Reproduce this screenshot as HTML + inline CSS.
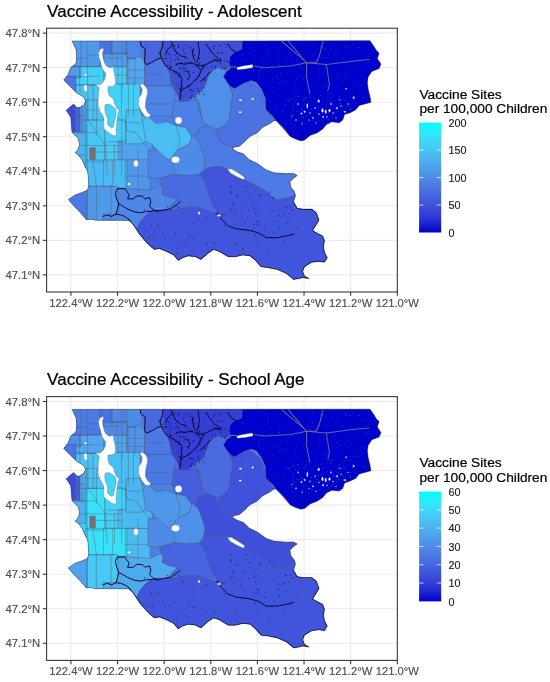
<!DOCTYPE html>
<html><head><meta charset="utf-8"><style>
html,body{margin:0;padding:0;background:#fff;}
body{width:550px;height:682px;overflow:hidden;}
svg{display:block;filter:blur(0.3px);}
text{font-family:"Liberation Sans",Arial,sans-serif;}
.title{font-size:16.3px;fill:#000;stroke:#000;stroke-width:0.25px;}
.ax{font-size:10.8px;fill:#4D4D4D;stroke:#4D4D4D;stroke-width:0.15px;}
.lt{font-size:13.3px;fill:#000;stroke:#000;stroke-width:0.2px;}
.ll{font-size:10.8px;fill:#1a1a1a;stroke:#1a1a1a;stroke-width:0.15px;}
</style></head><body>
<svg width="550" height="682" viewBox="0 0 550 682">
<defs><linearGradient id="g1" x1="0" y1="1" x2="0" y2="0"><stop offset="0.000" stop-color="#0000cd"/><stop offset="0.125" stop-color="#2d33d4"/><stop offset="0.250" stop-color="#3f52db"/><stop offset="0.375" stop-color="#496fe2"/><stop offset="0.500" stop-color="#4e8be8"/><stop offset="0.625" stop-color="#4ea8ee"/><stop offset="0.750" stop-color="#48c4f4"/><stop offset="0.875" stop-color="#39e2fa"/><stop offset="1.000" stop-color="#00ffff"/></linearGradient><linearGradient id="g2" x1="0" y1="1" x2="0" y2="0"><stop offset="0.000" stop-color="#0000cd"/><stop offset="0.125" stop-color="#2d33d4"/><stop offset="0.250" stop-color="#3f52db"/><stop offset="0.375" stop-color="#496fe2"/><stop offset="0.500" stop-color="#4e8be8"/><stop offset="0.625" stop-color="#4ea8ee"/><stop offset="0.750" stop-color="#48c4f4"/><stop offset="0.875" stop-color="#39e2fa"/><stop offset="1.000" stop-color="#00ffff"/></linearGradient></defs>
<rect width="550" height="682" fill="#fff"/>
<text transform="translate(47.10,16.90) scale(1.047,1)" class="title">Vaccine Accessibility - Adolescent</text>
<g stroke="#EBEBEB" stroke-width="1.07">
<line x1="70.90" y1="28.20" x2="70.90" y2="292.00"/>
<line x1="117.53" y1="28.20" x2="117.53" y2="292.00"/>
<line x1="164.16" y1="28.20" x2="164.16" y2="292.00"/>
<line x1="210.79" y1="28.20" x2="210.79" y2="292.00"/>
<line x1="257.42" y1="28.20" x2="257.42" y2="292.00"/>
<line x1="304.05" y1="28.20" x2="304.05" y2="292.00"/>
<line x1="350.68" y1="28.20" x2="350.68" y2="292.00"/>
<line x1="397.31" y1="28.20" x2="397.31" y2="292.00"/>
<line x1="46.60" y1="33.10" x2="397.30" y2="33.10"/>
<line x1="46.60" y1="67.64" x2="397.30" y2="67.64"/>
<line x1="46.60" y1="102.18" x2="397.30" y2="102.18"/>
<line x1="46.60" y1="136.72" x2="397.30" y2="136.72"/>
<line x1="46.60" y1="171.26" x2="397.30" y2="171.26"/>
<line x1="46.60" y1="205.80" x2="397.30" y2="205.80"/>
<line x1="46.60" y1="240.34" x2="397.30" y2="240.34"/>
<line x1="46.60" y1="274.88" x2="397.30" y2="274.88"/>
</g>
<g transform="translate(0,0)"><clipPath id="cty1"><polygon points="72.2,41.0 370.0,40.8 373.6,45.9 376.4,50.5 379.1,53.2 377.3,58.6 380.9,64.1 379.1,68.6 371.8,71.4 368.2,76.8 367.3,82.3 368.2,89.5 370.0,96.8 370.9,102.3 366.4,103.6 359.1,105.5 355.5,110.0 350.0,112.7 344.5,114.5 342.7,120.0 339.1,122.7 331.8,121.8 326.4,124.5 322.7,129.1 317.3,132.7 310.0,135.5 304.5,140.0 300.9,140.9 295.5,139.1 290.0,136.4 285.5,131.0 280.0,125.0 276.0,120.5 273.6,120.9 270.0,123.6 262.7,127.3 257.3,132.7 250.0,136.4 244.5,141.8 239.1,146.4 233.6,147.3 232.7,149.1 237.3,151.8 243.6,154.0 249.0,159.5 257.3,163.6 266.4,170.0 273.6,172.7 284.5,173.6 293.6,173.6 297.3,175.5 293.6,178.2 290.0,181.8 290.9,187.3 294.5,191.8 295.5,195.5 293.6,201.8 297.3,208.2 302.7,209.1 311.8,209.1 316.4,212.7 319.1,220.0 315.5,226.0 312.7,230.5 317.3,233.2 322.7,235.9 324.5,240.5 323.6,246.8 324.5,252.3 327.3,257.7 324.5,262.3 319.1,261.4 311.8,262.3 304.5,266.8 302.7,271.4 304.5,275.9 309.1,278.6 302.7,277.7 299.1,278.6 293.6,279.5 286.4,273.6 277.3,269.5 268.2,267.7 260.9,266.8 255.5,260.5 250.0,255.9 242.7,255.0 235.5,256.8 228.2,256.8 219.1,251.4 213.6,249.5 208.2,253.2 200.9,259.5 195.5,256.8 188.2,255.9 182.7,257.7 178.2,260.5 173.6,255.0 166.4,251.4 159.1,248.6 154.5,249.5 150.9,246.8 145.5,241.4 140.0,235.0 136.4,229.5 132.7,224.1 129.1,220.5 118.0,220.3 96.2,220.3 90.7,219.2 86.4,219.7 80.9,213.2 74.4,206.6 68.4,199.5 75.1,194.9 81.6,192.7 87.6,190.0 88.7,185.1 88.2,176.4 87.6,170.9 84.9,166.5 82.2,160.0 78.4,154.9 75.1,152.7 77.3,150.5 79.5,145.1 78.4,138.5 72.0,132.2 71.4,124.6 70.8,117.6 68.5,113.5 66.1,110.5 70.0,107.0 73.7,104.1 76.6,107.6 79.6,107.6 84.3,104.7 85.5,100.5 83.4,96.8 78.3,93.9 75.4,91.7 71.7,88.1 67.4,83.7 63.7,80.1 65.3,78.2 68.0,74.9 69.6,70.5 71.0,67.3 75.5,64.0 76.4,61.3 76.5,56.0 76.2,49.8 74.0,45.0 72.6,42.0"/></clipPath>
<polygon points="72.2,41.0 370.0,40.8 373.6,45.9 376.4,50.5 379.1,53.2 377.3,58.6 380.9,64.1 379.1,68.6 371.8,71.4 368.2,76.8 367.3,82.3 368.2,89.5 370.0,96.8 370.9,102.3 366.4,103.6 359.1,105.5 355.5,110.0 350.0,112.7 344.5,114.5 342.7,120.0 339.1,122.7 331.8,121.8 326.4,124.5 322.7,129.1 317.3,132.7 310.0,135.5 304.5,140.0 300.9,140.9 295.5,139.1 290.0,136.4 285.5,131.0 280.0,125.0 276.0,120.5 273.6,120.9 270.0,123.6 262.7,127.3 257.3,132.7 250.0,136.4 244.5,141.8 239.1,146.4 233.6,147.3 232.7,149.1 237.3,151.8 243.6,154.0 249.0,159.5 257.3,163.6 266.4,170.0 273.6,172.7 284.5,173.6 293.6,173.6 297.3,175.5 293.6,178.2 290.0,181.8 290.9,187.3 294.5,191.8 295.5,195.5 293.6,201.8 297.3,208.2 302.7,209.1 311.8,209.1 316.4,212.7 319.1,220.0 315.5,226.0 312.7,230.5 317.3,233.2 322.7,235.9 324.5,240.5 323.6,246.8 324.5,252.3 327.3,257.7 324.5,262.3 319.1,261.4 311.8,262.3 304.5,266.8 302.7,271.4 304.5,275.9 309.1,278.6 302.7,277.7 299.1,278.6 293.6,279.5 286.4,273.6 277.3,269.5 268.2,267.7 260.9,266.8 255.5,260.5 250.0,255.9 242.7,255.0 235.5,256.8 228.2,256.8 219.1,251.4 213.6,249.5 208.2,253.2 200.9,259.5 195.5,256.8 188.2,255.9 182.7,257.7 178.2,260.5 173.6,255.0 166.4,251.4 159.1,248.6 154.5,249.5 150.9,246.8 145.5,241.4 140.0,235.0 136.4,229.5 132.7,224.1 129.1,220.5 118.0,220.3 96.2,220.3 90.7,219.2 86.4,219.7 80.9,213.2 74.4,206.6 68.4,199.5 75.1,194.9 81.6,192.7 87.6,190.0 88.7,185.1 88.2,176.4 87.6,170.9 84.9,166.5 82.2,160.0 78.4,154.9 75.1,152.7 77.3,150.5 79.5,145.1 78.4,138.5 72.0,132.2 71.4,124.6 70.8,117.6 68.5,113.5 66.1,110.5 70.0,107.0 73.7,104.1 76.6,107.6 79.6,107.6 84.3,104.7 85.5,100.5 83.4,96.8 78.3,93.9 75.4,91.7 71.7,88.1 67.4,83.7 63.7,80.1 65.3,78.2 68.0,74.9 69.6,70.5 71.0,67.3 75.5,64.0 76.4,61.3 76.5,56.0 76.2,49.8 74.0,45.0 72.6,42.0" fill="#4d80e6"/>
<g clip-path="url(#cty1)" stroke="#585868" stroke-width="0.55" stroke-opacity="0.8" stroke-linejoin="round">
<polygon points="55.0,40.0 100.0,40.0 100.0,66.7 55.0,66.7" fill="#4f99eb"/>
<polygon points="100.0,40.0 112.0,40.0 112.0,58.0 100.0,58.0" fill="#4970e2"/>
<polygon points="112.0,40.0 127.0,40.0 127.0,54.0 112.0,54.0" fill="#4e90e9"/>
<polygon points="125.0,40.0 142.0,40.0 142.0,58.0 125.0,58.0" fill="#4d84e7"/>
<polygon points="104.0,54.0 127.0,54.0 127.0,67.0 104.0,67.0" fill="#4f9bec"/>
<polygon points="55.0,66.7 104.0,66.7 104.0,85.0 55.0,85.0" fill="#43d0f6"/>
<polygon points="55.0,66.7 81.0,66.7 81.0,78.0 55.0,78.0" fill="#4f9dec"/>
<polygon points="55.0,76.0 76.0,76.0 76.0,92.0 55.0,92.0" fill="#4a75e3"/>
<polygon points="104.0,67.0 127.0,67.0 127.0,84.0 104.0,84.0" fill="#46cbf6"/>
<polygon points="126.7,61.8 128.9,58.5 134.4,59.1 136.5,57.5 139.8,56.4 143.1,60.2 144.7,61.8 144.7,86.0 126.7,86.0" fill="#4ea7ee"/>
<polygon points="144.7,58.0 175.0,58.0 175.0,86.0 144.7,86.0" fill="#4b79e4"/>
<polygon points="76.0,85.0 104.0,85.0 104.0,121.0 76.0,121.0" fill="#48c4f4"/>
<polygon points="55.0,100.0 75.5,100.0 75.5,132.0 55.0,132.0" fill="#3b4bd9"/>
<polygon points="75.5,100.0 80.0,100.0 80.0,136.0 75.5,136.0" fill="#4769e0"/>
<polygon points="80.0,100.0 86.0,100.0 86.0,136.0 80.0,136.0" fill="#4f97eb"/>
<polygon points="104.0,84.0 140.0,84.0 140.0,125.0 104.0,125.0" fill="#43d0f6"/>
<polygon points="145.0,86.0 197.0,86.0 197.0,116.0 145.0,116.0" fill="#4d84e7"/>
<polygon points="55.0,132.0 86.0,132.0 86.0,186.2 55.0,186.2" fill="#4db0f0"/>
<polygon points="55.0,155.0 87.0,155.0 87.0,186.2 55.0,186.2" fill="#4db0f0"/>
<polygon points="86.0,120.0 105.0,120.0 105.0,165.0 86.0,165.0" fill="#47c7f5"/>
<polygon points="105.0,120.0 126.0,120.0 126.0,160.0 105.0,160.0" fill="#46cbf6"/>
<polygon points="118.0,141.0 152.0,141.0 152.0,160.0 118.0,160.0" fill="#4fa2ed"/>
<polygon points="86.0,160.0 128.0,160.0 128.0,188.0 86.0,188.0" fill="#4bb9f2"/>
<polygon points="127.0,160.0 150.0,160.0 150.0,196.0 127.0,196.0" fill="#4f97eb"/>
<polygon points="148.0,150.0 178.0,150.0 192.7,140.0 199.0,160.0 200.0,173.1 185.8,175.3 174.9,174.2 167.3,176.4 159.6,178.5 148.0,178.0" fill="#4d84e7"/>
<polygon points="159.6,178.5 167.3,176.4 174.9,174.2 185.8,175.3 200.0,173.1 204.5,180.9 208.2,191.8 211.8,202.7 215.0,210.0 212.7,213.1 205.5,210.2 198.2,207.3 188.0,207.3 179.3,208.7 170.0,205.0 168.4,197.1 161.8,193.8 162.9,188.4 160.7,185.1" fill="#486be1"/>
<polygon points="126.0,116.0 140.0,116.0 147.0,115.5 156.0,123.6 167.0,121.8 176.0,125.5 185.5,127.3 191.0,134.5 192.7,140.0 187.0,145.5 180.0,149.0 174.5,154.5 169.0,160.0 162.0,154.5 156.0,149.0 151.0,143.6 145.5,141.8 126.0,141.0" fill="#4abef3"/>
<polygon points="126.0,110.0 140.0,110.0 142.0,116.0 145.5,141.8 141.8,143.8 126.0,143.8" fill="#49c2f4"/>
<polygon points="174.0,100.0 197.0,100.0 199.1,101.8 200.9,112.7 202.7,121.8 208.2,125.5 200.0,128.0 192.7,138.0 191.0,134.5 185.5,127.3 176.0,125.5 172.0,116.0" fill="#4d80e6"/>
<polygon points="55.0,186.2 87.0,186.2 87.0,222.0 55.0,222.0" fill="#4b79e4"/>
<polygon points="87.0,186.2 118.0,186.2 118.0,222.0 87.0,222.0" fill="#4f99eb"/>
<polygon points="118.0,188.0 150.0,190.0 160.7,185.1 162.9,188.4 161.8,193.8 168.4,197.1 177.3,199.1 168.2,208.2 160.9,213.6 150.9,211.3 146.0,215.0 140.0,222.0 136.4,229.5 103.2,230.0 103.2,214.0 118.0,214.0" fill="#4e87e7"/>
<polygon points="217.3,134.5 220.9,141.8 228.2,145.5 233.6,147.3 232.7,149.1 237.3,151.8 243.6,154.0 249.0,159.5 257.3,163.6 266.4,170.0 273.6,172.7 284.5,173.6 293.6,173.6 297.3,175.5 293.6,178.2 290.0,181.8 290.9,187.3 294.5,191.8 295.5,194.5 290.0,197.3 277.3,200.0 271.8,196.4 262.7,189.1 251.8,183.6 240.9,178.2 233.6,174.5 230.0,170.9 226.4,168.2 219.1,166.4 210.0,167.3 204.5,170.0 199.1,174.5 199.0,160.0 192.7,140.0 200.0,128.0 208.2,125.5 217.3,129.1" fill="#4c7be5"/>
<polygon points="176.7,150.4 189.8,143.8 192.0,135.1 198.0,140.0 202.0,150.0 205.0,160.0 203.0,170.0 199.0,174.5 185.8,175.3 174.9,174.2 172.4,156.9" fill="#4e8be8"/>
<polygon points="199.1,174.5 204.5,170.0 210.0,167.3 219.1,166.4 226.4,168.2 233.6,174.5 240.9,178.2 251.8,183.6 262.7,189.1 271.8,196.4 277.3,200.0 290.0,197.3 300.0,194.0 340.0,200.0 340.0,290.0 140.0,290.0 136.4,229.5 140.0,222.0 146.0,215.0 150.9,211.3 155.3,210.5 161.1,210.5 169.8,209.1 179.3,208.7 188.0,207.3 198.2,207.3 205.5,210.2 212.7,213.1 217.3,212.7 211.8,202.7 208.2,191.8 204.5,180.9" fill="#4054dc"/>
<polygon points="223.6,68.9 230.9,68.6 226.4,71.4 223.6,76.8 227.3,82.3 229.1,85.5 232.7,94.5 230.9,107.3 229.1,120.0 224.5,125.5 217.3,129.1 208.2,125.5 202.7,121.8 200.9,112.7 199.1,101.8 195.5,98.2 197.3,90.9 203.6,88.9 209.1,74.4 216.4,67.1" fill="#4e90e9"/>
<polygon points="229.1,85.5 235.5,87.3 242.7,83.6 250.0,81.8 255.5,85.5 260.9,90.9 264.5,100.0 266.4,109.1 270.0,114.5 273.6,119.1 276.0,120.5 273.6,120.9 270.0,123.6 262.7,127.3 257.3,132.7 250.0,136.4 244.5,141.8 239.1,146.4 233.6,147.3 228.2,145.5 220.9,141.8 217.3,134.5 219.1,129.1 224.5,125.5 229.1,120.0 230.9,107.3 232.7,94.5" fill="#4a72e2"/>
<polygon points="140.9,40.0 163.6,40.0 161.6,41.3 163.8,46.5 162.7,56.4 159.5,58.5 154.0,60.7 148.5,64.0 144.2,64.0 145.3,56.4 144.2,48.7 140.9,45.5" fill="#4665df"/>
<polygon points="161.6,40.0 242.5,40.0 241.8,49.5 234.5,52.3 230.0,56.8 229.1,62.3 230.9,68.6 223.6,68.9 216.4,67.1 209.1,74.4 203.6,88.9 194.5,96.2 187.3,101.6 180.0,101.6 176.4,92.5 171.5,85.0 169.3,72.7 164.9,64.0 162.7,56.4 163.8,46.5" fill="#3e50da"/>
<polygon points="242.5,40.0 400.0,40.0 400.0,150.0 300.9,140.9 295.5,139.1 290.0,136.4 285.5,130.0 280.0,124.0 276.0,120.5 272.7,116.0 266.0,110.0 265.5,98.6 261.8,89.5 256.4,82.3 250.9,80.5 243.6,83.2 234.5,88.6 230.0,85.9 227.3,82.3 223.6,76.8 226.4,71.4 230.9,68.6 229.1,62.3 230.0,56.8 234.5,52.3 241.8,49.5" fill="#0000cd"/>
</g>
<g clip-path="url(#cty1)" fill="none" stroke-linejoin="round" stroke-linecap="round">
<g stroke="#585868" stroke-width="0.5" stroke-opacity="0.8">
<polyline points="80.9,41.0 80.9,66.7"/>
<polyline points="87.1,41.0 87.1,66.7"/>
<polyline points="87.0,55.3 100.0,55.3"/>
<polyline points="76.0,58.5 87.0,58.5"/>
<polyline points="66.0,66.7 104.0,66.7"/>
<polyline points="66.0,76.4 100.0,76.4"/>
<polyline points="79.5,66.7 79.5,85.0"/>
<polyline points="87.6,66.7 87.6,85.0"/>
<polyline points="112.2,41.0 112.2,58.0"/>
<polyline points="104.0,58.0 122.0,58.0"/>
<polyline points="112.0,53.0 127.0,53.0"/>
<polyline points="122.0,41.0 122.0,67.0"/>
<polyline points="127.0,41.0 127.0,60.0"/>
<polyline points="117.0,54.0 117.0,67.0"/>
<polyline points="110.0,67.0 110.0,84.0"/>
<polyline points="118.0,67.0 118.0,84.0"/>
<polyline points="122.0,67.0 122.0,90.0"/>
<polyline points="104.0,75.0 127.0,75.0"/>
<polyline points="76.0,85.0 98.0,85.0"/>
<polyline points="80.0,85.0 80.0,100.0"/>
<polyline points="88.0,92.0 88.0,120.0"/>
<polyline points="93.0,85.0 93.0,120.0"/>
<polyline points="86.0,100.0 98.0,100.0"/>
<polyline points="86.0,110.0 98.0,110.0"/>
<polyline points="76.0,120.0 98.0,120.0"/>
<polyline points="96.4,100.0 96.4,118.0"/>
<polyline points="73.6,107.0 73.6,133.0"/>
<polyline points="78.2,107.0 78.2,133.0"/>
<polyline points="82.0,100.0 82.0,135.0"/>
<polyline points="71.0,132.7 96.0,132.7"/>
<polyline points="66.0,116.0 86.0,116.0"/>
<polyline points="87.3,100.0 87.3,186.0"/>
<polyline points="96.4,118.0 96.4,135.0"/>
<polyline points="87.3,118.2 105.5,145.5 107.3,175.0"/>
<polyline points="78.0,145.5 122.0,145.5"/>
<polyline points="87.0,161.8 105.0,161.8"/>
<polyline points="121.8,118.0 121.8,175.0"/>
<polyline points="118.2,118.2 125.5,121.8 140.0,123.6 147.3,116.4"/>
<polyline points="125.5,121.8 127.3,130.9 136.4,132.7 143.6,143.6 150.9,150.9"/>
<polyline points="107.0,141.8 122.0,141.8"/>
<polyline points="114.5,145.0 114.5,175.0"/>
<polyline points="96.0,152.0 122.0,152.0"/>
<polyline points="121.5,84.0 121.5,116.0"/>
<polyline points="128.4,84.0 128.4,116.0"/>
<polyline points="133.5,84.0 133.5,116.0"/>
<polyline points="128.0,58.0 128.0,84.0"/>
<polyline points="135.0,58.0 135.0,85.0"/>
<polyline points="127.0,70.0 145.0,70.0"/>
<polyline points="127.0,78.0 145.0,78.0"/>
<polyline points="147.0,104.0 174.0,104.0"/>
<polyline points="175.0,62.0 175.0,100.0"/>
<polyline points="145.0,74.0 165.0,74.0"/>
<polyline points="176.0,125.5 180.0,140.0 178.0,150.0"/>
<polyline points="85.0,186.4 114.5,186.4"/>
<polyline points="87.3,186.0 87.3,220.0"/>
<polyline points="96.4,186.0 96.4,220.0"/>
<polyline points="111.0,186.0 111.0,220.0"/>
<polyline points="103.6,160.0 103.6,186.0"/>
<polyline points="112.7,160.0 112.7,186.0"/>
<polyline points="92.7,160.0 96.4,186.0"/>
<polyline points="125.5,160.0 125.5,187.0"/>
<polyline points="138.0,150.0 138.0,190.0"/>
<polyline points="125.0,176.0 148.0,176.0"/>
<polyline points="195.0,98.0 200.0,112.0 203.0,122.0"/>
</g>
<g stroke="#707098" stroke-width="1.05" stroke-opacity="0.9">
<polyline points="282.0,41.5 293.5,51.4 301.7,57.9 306.6,62.8"/>
<polyline points="288.6,41.5 296.8,51.4 303.4,59.5"/>
<polyline points="323.0,41.5 319.7,54.6 316.4,62.8 306.6,62.8"/>
<polyline points="306.6,62.8 326.3,64.5 352.4,61.2 368.8,59.5"/>
<polyline points="306.6,62.8 306.6,77.5 309.9,93.9"/>
<polyline points="326.3,64.5 329.5,84.1 327.9,90.6"/>
<polyline points="306.6,62.8 290.3,66.1 264.1,67.7 254.3,66.1"/>
<polyline points="236.0,67.0 231.8,66.8 228.0,68.0"/>
</g>
<g stroke="#0a0a30" stroke-width="1.0">
<polyline points="293.6,201.8 297.3,208.2 302.7,209.1 311.8,209.1 316.4,212.7 319.1,220.0 315.5,226.0 312.7,230.5 317.3,233.2 322.7,235.9 324.5,240.5 323.6,246.8 324.5,252.3 327.3,257.7 324.5,262.3 319.1,261.4 311.8,262.3 304.5,266.8 302.7,271.4 304.5,275.9 309.1,278.6 302.7,277.7 299.1,278.6 293.6,279.5 286.4,273.6 277.3,269.5 268.2,267.7 260.9,266.8 255.5,260.5 250.0,255.9 242.7,255.0 235.5,256.8 228.2,256.8 219.1,251.4 213.6,249.5 208.2,253.2 200.9,259.5 195.5,256.8 188.2,255.9 182.7,257.7 178.2,260.5 173.6,255.0 166.4,251.4 159.1,248.6 154.5,249.5 150.9,246.8 145.5,241.4 140.0,235.0 136.4,229.5 132.7,224.1 129.1,220.5" stroke-width="1.1"/>
<polyline points="163.1,41.6 162.4,46.7 160.2,52.5 161.6,58.4 164.5,64.2 168.9,68.5 174.7,71.5 179.1,74.4 182.0,78.7 181.3,86.0 180.5,93.3 179.8,100.0"/>
<polyline points="176.2,64.9 179.1,63.5 186.4,64.2 189.3,62.7 193.6,63.5 198.0,65.6 203.8,65.6 209.6,62.7 215.5,59.8 221.3,60.5"/>
<polyline points="203.8,66.4 200.9,71.5 198.0,77.3 193.6,81.6 189.3,86.0 183.5,88.9 180.5,90.4"/>
<polyline points="192.2,49.6 192.9,55.5 195.1,61.3"/>
<polyline points="198.0,42.4 199.5,51.1 198.0,59.8 196.5,62.7"/>
<polyline points="170.4,40.9 173.3,44.5 167.5,49.6 166.0,54.0"/>
<polyline points="140.2,41.5 141.0,45.8 145.3,48.7 144.5,61.8 146.7,64.7 151.8,62.5 157.6,58.9 161.6,58.4"/>
<polyline points="117.5,188.7 124.7,188.7 126.9,191.6 129.1,194.5 127.6,198.9 133.5,198.9 136.4,196.0 142.2,196.0 145.1,198.9 149.5,197.5 150.9,201.8 149.5,206.2 152.4,209.1 155.3,210.5 158.2,212.0"/>
<polyline points="117.5,188.7 115.3,193.1 116.7,198.9 118.9,204.0 121.8,205.5 127.6,209.1 134.9,212.0 140.7,212.7 146.5,211.3 150.9,211.3 155.3,210.5 161.1,210.5 169.8,209.1 177.1,204.7 180.0,201.8"/>
<polyline points="102.9,216.4 107.3,214.9 111.6,216.4 116.0,214.2 120.4,214.9 124.7,216.4 129.1,219.3 130.5,221.0"/>
<polyline points="118.9,204.0 117.5,209.1 116.0,214.2"/>
<polyline points="217.3,213.0 219.0,215.5 222.7,220.5 228.2,225.9 235.5,228.6 250.0,230.5 259.1,233.2 266.4,237.7 277.3,237.7 286.4,235.9 293.6,234.1"/>
<polyline points="172.0,45.0 176.0,52.0 181.0,56.0 186.0,57.0"/>
<polyline points="206.0,44.0 210.0,50.0 214.0,55.0 221.0,60.5"/>
<polyline points="186.0,70.0 190.0,75.0 188.0,80.0"/>
<polyline points="200.0,82.0 205.0,78.0 210.0,72.0"/>
<polyline points="228.0,44.0 232.0,50.0 236.0,52.0"/>
</g>
</g>
<polygon points="102.5,48.3 103.9,49.0 102.5,52.3 102.9,56.9 104.2,62.2 105.9,65.5 109.2,67.8 113.1,66.8 113.8,71.4 115.1,76.7 115.5,82.9 115.3,84.5 113.0,86.2 108.0,86.7 107.9,90.0 108.4,93.8 109.6,96.0 113.3,98.9 114.7,104.1 117.0,108.5 119.1,110.0 117.7,114.3 117.0,120.2 116.5,125.3 116.0,130.2 116.5,134.5 114.4,135.9 111.6,134.5 107.3,131.8 104.0,128.5 103.5,122.0 104.1,120.2 103.0,115.8 100.1,111.4 98.2,105.5 98.2,99.7 98.6,92.3 99.3,87.5 97.9,86.6 96.0,85.0 96.6,84.3 100.6,84.6 101.8,82.9 103.2,82.0 105.2,78.0 105.9,73.4 103.2,70.1 101.6,66.8 100.6,62.2 98.9,56.9 98.6,52.9 99.9,49.6" fill="#fff" stroke="#707080" stroke-width="0.4"/>
<polygon points="140.8,83.8 143.5,84.5 145.9,86.7 147.4,90.0 147.4,94.0 145.9,99.8 145.2,107.1 146.5,110.5 148.1,112.9 151.0,115.1 148.8,117.3 145.2,116.5 141.5,111.5 138.6,105.6 138.6,98.4 141.5,94.0 142.3,89.6 140.1,85.3" fill="#fff" stroke="#707080" stroke-width="0.4"/>
<polygon points="84.0,73.8 86.5,73.6 87.2,75.2 86.0,76.2 84.2,75.6" fill="#fff" stroke="#707080" stroke-width="0.4"/>
<polygon points="83.8,85.0 87.0,85.0 87.0,92.0 84.0,91.0" fill="#fff" stroke="#707080" stroke-width="0.4"/>
<polygon points="236.5,67.5 243.0,66.0 252.5,64.5 253.0,67.5 245.0,69.0 237.5,69.8" fill="#fff" stroke="#707080" stroke-width="0.4"/>
<polygon points="227.5,168.8 231.5,169.0 237.5,172.6 244.5,177.2 243.8,179.8 237.0,176.8 230.0,172.8" fill="#fff" stroke="#707080" stroke-width="0.4"/>
<polygon points="105.2,104.8 108.9,104.1 112.5,106.3 115.5,109.2 116.2,112.9 115.5,117.3 114.0,123.2 113.8,126.4 111.6,128.0 108.9,125.8 107.4,123.9 107.8,119.5 106.7,115.8 105.2,112.9 104.8,108.5" fill="#41d5f7" stroke="#585868" stroke-width="0.4"/>
<g clip-path="url(#cty1)"><g fill="#fff" stroke="#8080a0" stroke-width="0.25">
<ellipse cx="298" cy="104" rx="0.6" ry="0.9"/>
<ellipse cx="310" cy="113" rx="0.6" ry="0.8"/>
<ellipse cx="315" cy="108" rx="0.5" ry="0.9"/>
<ellipse cx="319" cy="114" rx="0.6" ry="0.7"/>
<ellipse cx="327" cy="117" rx="0.5" ry="0.8"/>
<ellipse cx="333" cy="113" rx="0.6" ry="0.7"/>
<ellipse cx="336" cy="118" rx="0.5" ry="0.6"/>
<ellipse cx="341" cy="106" rx="0.5" ry="0.7"/>
<ellipse cx="348" cy="104" rx="0.5" ry="0.7"/>
<ellipse cx="309" cy="120" rx="0.5" ry="0.6"/>
<ellipse cx="302" cy="124" rx="0.5" ry="0.6"/>
<ellipse cx="292" cy="116" rx="0.5" ry="0.6"/>
<ellipse cx="316" cy="123" rx="0.5" ry="0.6"/>
<ellipse cx="340" cy="100" rx="0.5" ry="0.6"/>
<ellipse cx="318.7" cy="100.9" rx="1.0" ry="1.5"/>
<ellipse cx="307.3" cy="106" rx="0.7" ry="2.4"/>
<ellipse cx="322.5" cy="110.5" rx="1.0" ry="2.0"/>
<ellipse cx="325.7" cy="111.7" rx="0.9" ry="2.0"/>
<ellipse cx="329.5" cy="110.5" rx="1.0" ry="1.5"/>
<ellipse cx="301.5" cy="113.6" rx="0.8" ry="1.0"/>
<ellipse cx="304.7" cy="111.7" rx="0.8" ry="1.0"/>
<ellipse cx="323.2" cy="116.8" rx="0.9" ry="0.9"/>
<ellipse cx="337.2" cy="107.9" rx="0.9" ry="1.0"/>
<ellipse cx="346.1" cy="88.8" rx="0.8" ry="0.8"/>
<ellipse cx="353.7" cy="97.7" rx="0.9" ry="1.1"/>
<ellipse cx="344.8" cy="111.7" rx="1.2" ry="0.8"/>
<ellipse cx="313" cy="118" rx="0.8" ry="0.8"/>
<ellipse cx="331" cy="104" rx="0.7" ry="0.9"/>
<ellipse cx="296" cy="120" rx="0.7" ry="0.8"/>
<ellipse cx="240.5" cy="100.2" rx="1.5" ry="0.9"/>
<ellipse cx="252.7" cy="99" rx="1.2" ry="0.9"/>
<ellipse cx="240.2" cy="112.2" rx="1.4" ry="0.9"/>
<ellipse cx="178.5" cy="120.5" rx="3.4" ry="3.4"/>
<ellipse cx="175.5" cy="159.8" rx="4.0" ry="3.2"/>
<ellipse cx="136" cy="163.5" rx="2.3" ry="3.3"/>
<ellipse cx="129" cy="184" rx="1.4" ry="1.2"/>
<ellipse cx="199" cy="213" rx="1.0" ry="1.5"/>
<ellipse cx="219" cy="215.5" rx="1.5" ry="1.0"/>
</g><g fill="#707088">
<circle cx="269.0" cy="94.7" r="0.4"/>
<circle cx="287.9" cy="100.4" r="0.4"/>
<circle cx="324.5" cy="49.2" r="0.4"/>
<circle cx="236.9" cy="122.6" r="0.4"/>
<circle cx="272.1" cy="65.3" r="0.4"/>
<circle cx="377.4" cy="87.7" r="0.4"/>
<circle cx="354.6" cy="88.3" r="0.4"/>
<circle cx="326.4" cy="57.3" r="0.4"/>
<circle cx="325.8" cy="125.5" r="0.4"/>
<circle cx="309.8" cy="113.4" r="0.4"/>
<circle cx="331.0" cy="49.1" r="0.4"/>
<circle cx="343.4" cy="99.2" r="0.4"/>
<circle cx="278.1" cy="45.9" r="0.4"/>
<circle cx="358.8" cy="87.9" r="0.4"/>
<circle cx="337.8" cy="126.5" r="0.4"/>
<circle cx="337.1" cy="130.5" r="0.4"/>
<circle cx="291.5" cy="119.1" r="0.4"/>
<circle cx="298.6" cy="131.9" r="0.4"/>
<circle cx="360.7" cy="52.3" r="0.4"/>
<circle cx="254.4" cy="63.6" r="0.4"/>
<circle cx="373.1" cy="84.4" r="0.4"/>
<circle cx="324.6" cy="71.6" r="0.4"/>
<circle cx="307.5" cy="79.7" r="0.4"/>
<circle cx="285.2" cy="98.6" r="0.4"/>
<circle cx="318.5" cy="128.9" r="0.4"/>
<circle cx="332.5" cy="131.2" r="0.4"/>
<circle cx="357.5" cy="137.1" r="0.4"/>
<circle cx="331.0" cy="58.5" r="0.4"/>
<circle cx="358.1" cy="134.6" r="0.4"/>
<circle cx="364.4" cy="97.1" r="0.4"/>
<circle cx="337.1" cy="63.1" r="0.4"/>
<circle cx="353.9" cy="97.5" r="0.4"/>
<circle cx="275.7" cy="49.0" r="0.4"/>
<circle cx="357.1" cy="137.0" r="0.4"/>
<circle cx="247.7" cy="119.1" r="0.4"/>
<circle cx="293.7" cy="57.3" r="0.4"/>
<circle cx="277.0" cy="116.0" r="0.4"/>
<circle cx="359.8" cy="47.2" r="0.4"/>
<circle cx="322.9" cy="47.3" r="0.4"/>
<circle cx="337.7" cy="74.4" r="0.4"/>
<circle cx="361.0" cy="136.2" r="0.4"/>
<circle cx="307.3" cy="137.9" r="0.4"/>
<circle cx="279.3" cy="50.3" r="0.4"/>
<circle cx="320.8" cy="46.0" r="0.4"/>
<circle cx="263.2" cy="81.8" r="0.4"/>
<circle cx="322.3" cy="57.8" r="0.4"/>
<circle cx="241.1" cy="125.4" r="0.4"/>
<circle cx="279.9" cy="134.1" r="0.4"/>
<circle cx="363.2" cy="78.9" r="0.4"/>
<circle cx="300.8" cy="92.4" r="0.4"/>
<circle cx="327.1" cy="99.6" r="0.4"/>
<circle cx="315.0" cy="101.9" r="0.4"/>
<circle cx="369.5" cy="91.2" r="0.4"/>
<circle cx="296.7" cy="111.4" r="0.4"/>
<circle cx="269.0" cy="71.6" r="0.4"/>
<circle cx="374.8" cy="92.5" r="0.4"/>
<circle cx="313.4" cy="44.1" r="0.4"/>
<circle cx="294.4" cy="98.1" r="0.4"/>
<circle cx="237.9" cy="101.5" r="0.4"/>
<circle cx="325.4" cy="48.7" r="0.4"/>
<circle cx="324.7" cy="87.3" r="0.4"/>
<circle cx="332.1" cy="76.5" r="0.4"/>
<circle cx="336.1" cy="113.1" r="0.4"/>
<circle cx="238.2" cy="48.8" r="0.4"/>
<circle cx="331.7" cy="134.5" r="0.4"/>
<circle cx="270.9" cy="86.3" r="0.4"/>
<circle cx="319.8" cy="73.4" r="0.4"/>
<circle cx="287.0" cy="72.7" r="0.4"/>
<circle cx="287.8" cy="99.6" r="0.4"/>
<circle cx="278.0" cy="78.8" r="0.4"/>
<circle cx="345.4" cy="45.6" r="0.4"/>
<circle cx="316.4" cy="112.8" r="0.4"/>
<circle cx="279.3" cy="64.1" r="0.4"/>
<circle cx="349.9" cy="65.7" r="0.4"/>
<circle cx="261.8" cy="84.3" r="0.4"/>
<circle cx="334.8" cy="52.7" r="0.4"/>
<circle cx="281.0" cy="74.7" r="0.4"/>
<circle cx="354.2" cy="84.7" r="0.4"/>
<circle cx="357.3" cy="59.1" r="0.4"/>
<circle cx="283.1" cy="104.8" r="0.4"/>
<circle cx="361.5" cy="85.9" r="0.4"/>
<circle cx="267.2" cy="54.5" r="0.4"/>
<circle cx="310.7" cy="61.1" r="0.4"/>
<circle cx="350.4" cy="122.7" r="0.4"/>
<circle cx="261.3" cy="69.5" r="0.4"/>
<circle cx="350.4" cy="104.0" r="0.4"/>
<circle cx="350.3" cy="75.8" r="0.4"/>
<circle cx="253.5" cy="70.7" r="0.4"/>
<circle cx="348.5" cy="68.8" r="0.4"/>
<circle cx="284.5" cy="82.6" r="0.4"/>
<circle cx="295.0" cy="81.9" r="0.4"/>
<circle cx="366.6" cy="57.8" r="0.4"/>
<circle cx="235.7" cy="132.6" r="0.4"/>
<circle cx="360.8" cy="136.8" r="0.4"/>
<circle cx="297.1" cy="133.3" r="0.4"/>
<circle cx="367.6" cy="64.1" r="0.4"/>
<circle cx="341.6" cy="122.5" r="0.4"/>
<circle cx="329.8" cy="92.3" r="0.4"/>
<circle cx="276.3" cy="75.4" r="0.4"/>
<circle cx="267.5" cy="49.5" r="0.4"/>
<circle cx="319.2" cy="70.3" r="0.4"/>
<circle cx="350.9" cy="47.3" r="0.4"/>
<circle cx="364.2" cy="108.9" r="0.4"/>
<circle cx="367.1" cy="128.2" r="0.4"/>
<circle cx="363.7" cy="97.8" r="0.4"/>
<circle cx="236.9" cy="113.8" r="0.4"/>
<circle cx="259.6" cy="71.5" r="0.4"/>
<circle cx="329.8" cy="92.9" r="0.4"/>
<circle cx="294.2" cy="132.2" r="0.4"/>
<circle cx="322.5" cy="75.4" r="0.4"/>
<circle cx="271.1" cy="124.9" r="0.4"/>
<circle cx="303.2" cy="117.3" r="0.4"/>
<circle cx="285.3" cy="61.7" r="0.4"/>
<circle cx="311.5" cy="120.6" r="0.4"/>
<circle cx="259.5" cy="118.2" r="0.4"/>
<circle cx="366.8" cy="119.6" r="0.4"/>
<circle cx="352.8" cy="43.7" r="0.4"/>
<circle cx="324.9" cy="124.9" r="0.4"/>
<circle cx="242.1" cy="68.8" r="0.4"/>
<circle cx="273.4" cy="93.1" r="0.4"/>
<circle cx="295.5" cy="87.9" r="0.4"/>
<circle cx="346.0" cy="43.2" r="0.4"/>
<circle cx="242.8" cy="55.1" r="0.4"/>
<circle cx="252.8" cy="49.5" r="0.4"/>
<circle cx="374.4" cy="124.2" r="0.4"/>
<circle cx="247.3" cy="90.7" r="0.4"/>
<circle cx="280.2" cy="72.9" r="0.4"/>
<circle cx="285.2" cy="104.5" r="0.4"/>
<circle cx="318.9" cy="77.3" r="0.4"/>
<circle cx="262.3" cy="74.2" r="0.4"/>
<circle cx="252.7" cy="95.8" r="0.4"/>
<circle cx="337.4" cy="79.1" r="0.4"/>
<circle cx="246.4" cy="60.0" r="0.4"/>
<circle cx="288.4" cy="100.4" r="0.4"/>
<circle cx="346.9" cy="79.1" r="0.4"/>
<circle cx="349.6" cy="102.2" r="0.4"/>
<circle cx="296.7" cy="78.4" r="0.4"/>
<circle cx="305.9" cy="109.8" r="0.4"/>
<circle cx="295.1" cy="108.9" r="0.4"/>
<circle cx="300.9" cy="66.3" r="0.4"/>
<circle cx="311.6" cy="109.0" r="0.4"/>
<circle cx="245.2" cy="83.4" r="0.4"/>
<circle cx="295.9" cy="126.6" r="0.4"/>
<circle cx="368.9" cy="78.6" r="0.4"/>
<circle cx="363.4" cy="118.1" r="0.4"/>
<circle cx="272.5" cy="87.1" r="0.4"/>
<circle cx="252.6" cy="120.3" r="0.4"/>
<circle cx="329.7" cy="127.3" r="0.4"/>
<circle cx="348.3" cy="106.4" r="0.4"/>
<circle cx="339.9" cy="96.6" r="0.4"/>
<circle cx="249.7" cy="98.8" r="0.4"/>
<circle cx="235.7" cy="56.6" r="0.4"/>
<circle cx="345.7" cy="47.2" r="0.4"/>
<circle cx="248.1" cy="52.4" r="0.4"/>
<circle cx="360.9" cy="60.0" r="0.4"/>
<circle cx="238.4" cy="122.9" r="0.4"/>
<circle cx="252.3" cy="123.2" r="0.4"/>
<circle cx="331.3" cy="122.4" r="0.4"/>
<circle cx="371.2" cy="98.0" r="0.4"/>
<circle cx="349.2" cy="46.4" r="0.4"/>
<circle cx="344.7" cy="91.6" r="0.4"/>
<circle cx="337.3" cy="53.1" r="0.4"/>
<circle cx="342.1" cy="131.8" r="0.4"/>
<circle cx="243.7" cy="73.8" r="0.4"/>
<circle cx="315.6" cy="121.7" r="0.4"/>
<circle cx="269.6" cy="60.1" r="0.4"/>
<circle cx="270.7" cy="101.5" r="0.4"/>
<circle cx="342.8" cy="80.4" r="0.4"/>
<circle cx="287.5" cy="80.7" r="0.4"/>
<circle cx="285.1" cy="82.7" r="0.4"/>
<circle cx="246.9" cy="90.5" r="0.4"/>
<circle cx="374.1" cy="82.2" r="0.4"/>
<circle cx="341.9" cy="58.3" r="0.4"/>
<circle cx="333.8" cy="114.8" r="0.4"/>
<circle cx="331.4" cy="92.1" r="0.4"/>
<circle cx="304.2" cy="104.1" r="0.4"/>
<circle cx="363.3" cy="57.2" r="0.4"/>
<circle cx="248.7" cy="114.1" r="0.4"/>
<circle cx="366.1" cy="92.1" r="0.4"/>
<circle cx="298.4" cy="111.3" r="0.4"/>
<circle cx="261.6" cy="68.4" r="0.4"/>
<circle cx="263.5" cy="98.6" r="0.4"/>
<circle cx="280.0" cy="65.1" r="0.4"/>
<circle cx="333.8" cy="133.6" r="0.4"/>
<circle cx="277.3" cy="110.0" r="0.4"/>
<circle cx="294.1" cy="124.1" r="0.4"/>
<circle cx="318.6" cy="68.4" r="0.4"/>
<circle cx="266.1" cy="45.2" r="0.4"/>
<circle cx="303.6" cy="79.4" r="0.4"/>
<circle cx="259.6" cy="77.2" r="0.4"/>
<circle cx="281.1" cy="116.5" r="0.4"/>
<circle cx="255.5" cy="137.2" r="0.4"/>
<circle cx="303.6" cy="99.9" r="0.4"/>
<circle cx="301.9" cy="122.3" r="0.4"/>
<circle cx="352.5" cy="95.9" r="0.4"/>
<circle cx="303.8" cy="111.5" r="0.4"/>
<circle cx="357.5" cy="81.0" r="0.4"/>
<circle cx="339.9" cy="134.2" r="0.4"/>
<circle cx="301.8" cy="64.8" r="0.4"/>
<circle cx="268.6" cy="111.2" r="0.4"/>
<circle cx="331.6" cy="134.1" r="0.4"/>
<circle cx="357.1" cy="66.0" r="0.4"/>
<circle cx="262.1" cy="67.6" r="0.4"/>
<circle cx="261.8" cy="109.9" r="0.4"/>
<circle cx="357.8" cy="128.5" r="0.4"/>
<circle cx="271.5" cy="125.2" r="0.4"/>
<circle cx="279.8" cy="83.2" r="0.4"/>
<circle cx="339.2" cy="51.2" r="0.4"/>
<circle cx="248.2" cy="122.2" r="0.4"/>
<circle cx="276.7" cy="76.9" r="0.4"/>
<circle cx="318.0" cy="107.2" r="0.4"/>
<circle cx="236.0" cy="74.8" r="0.4"/>
<circle cx="297.4" cy="89.2" r="0.4"/>
<circle cx="265.0" cy="98.6" r="0.4"/>
<circle cx="371.6" cy="80.1" r="0.4"/>
<circle cx="312.8" cy="54.3" r="0.4"/>
<circle cx="274.3" cy="106.2" r="0.4"/>
<circle cx="251.1" cy="127.3" r="0.4"/>
<circle cx="365.0" cy="52.2" r="0.4"/>
<circle cx="369.6" cy="78.6" r="0.4"/>
<circle cx="345.5" cy="114.9" r="0.4"/>
<circle cx="277.3" cy="107.2" r="0.4"/>
<circle cx="328.5" cy="119.6" r="0.4"/>
<circle cx="273.0" cy="114.6" r="0.4"/>
<circle cx="372.5" cy="106.9" r="0.4"/>
<circle cx="311.7" cy="53.8" r="0.4"/>
<circle cx="305.6" cy="76.5" r="0.4"/>
<circle cx="337.7" cy="107.5" r="0.4"/>
<circle cx="316.0" cy="60.3" r="0.4"/>
<circle cx="327.3" cy="102.9" r="0.4"/>
<circle cx="260.6" cy="127.5" r="0.4"/>
<circle cx="328.7" cy="54.7" r="0.4"/>
<circle cx="368.3" cy="56.4" r="0.4"/>
<circle cx="282.4" cy="111.4" r="0.4"/>
<circle cx="320.4" cy="95.7" r="0.4"/>
<circle cx="327.6" cy="86.5" r="0.4"/>
<circle cx="279.7" cy="59.8" r="0.4"/>
<circle cx="244.8" cy="111.0" r="0.4"/>
<circle cx="342.9" cy="94.6" r="0.4"/>
<circle cx="340.8" cy="77.1" r="0.4"/>
<circle cx="273.0" cy="79.4" r="0.4"/>
<circle cx="359.8" cy="47.0" r="0.4"/>
<circle cx="307.2" cy="66.5" r="0.4"/>
<circle cx="345.0" cy="76.6" r="0.4"/>
<circle cx="282.6" cy="81.3" r="0.4"/>
<circle cx="312.4" cy="116.3" r="0.4"/>
<circle cx="285.5" cy="123.5" r="0.4"/>
<circle cx="251.0" cy="68.7" r="0.4"/>
<circle cx="249.2" cy="53.7" r="0.4"/>
<circle cx="346.4" cy="112.1" r="0.4"/>
<circle cx="261.4" cy="61.0" r="0.4"/>
<circle cx="294.6" cy="113.6" r="0.4"/>
<circle cx="351.7" cy="114.1" r="0.4"/>
<circle cx="319.6" cy="56.9" r="0.4"/>
<circle cx="292.0" cy="61.4" r="0.4"/>
<circle cx="310.4" cy="97.0" r="0.4"/>
<circle cx="263.9" cy="66.8" r="0.4"/>
<circle cx="346.8" cy="45.9" r="0.4"/>
<circle cx="349.9" cy="127.7" r="0.4"/>
<circle cx="370.8" cy="79.4" r="0.4"/>
<circle cx="328.7" cy="112.5" r="0.45"/>
<circle cx="334.4" cy="124.3" r="0.45"/>
<circle cx="338.1" cy="104.0" r="0.45"/>
<circle cx="350.2" cy="109.5" r="0.45"/>
<circle cx="332.1" cy="116.8" r="0.45"/>
<circle cx="290.2" cy="118.1" r="0.45"/>
<circle cx="336.3" cy="109.8" r="0.45"/>
<circle cx="326.7" cy="108.8" r="0.45"/>
<circle cx="303.5" cy="110.9" r="0.45"/>
<circle cx="292.6" cy="110.0" r="0.45"/>
<circle cx="335.2" cy="108.3" r="0.45"/>
<circle cx="329.6" cy="123.8" r="0.45"/>
<circle cx="352.4" cy="99.1" r="0.45"/>
<circle cx="345.5" cy="113.7" r="0.45"/>
<circle cx="293.5" cy="105.8" r="0.45"/>
<circle cx="306.3" cy="97.3" r="0.45"/>
<circle cx="327.7" cy="122.9" r="0.45"/>
<circle cx="312.6" cy="121.1" r="0.45"/>
<circle cx="338.6" cy="99.0" r="0.45"/>
<circle cx="350.1" cy="113.0" r="0.45"/>
<circle cx="354.9" cy="116.5" r="0.45"/>
<circle cx="341.8" cy="105.3" r="0.45"/>
<circle cx="346.5" cy="123.0" r="0.45"/>
<circle cx="350.3" cy="108.1" r="0.45"/>
<circle cx="343.0" cy="109.6" r="0.45"/>
<circle cx="297.6" cy="96.3" r="0.45"/>
<circle cx="295.5" cy="101.0" r="0.45"/>
<circle cx="301.3" cy="109.9" r="0.45"/>
<circle cx="338.9" cy="111.1" r="0.45"/>
<circle cx="319.5" cy="114.5" r="0.45"/>
<circle cx="311.3" cy="108.9" r="0.45"/>
<circle cx="343.0" cy="107.0" r="0.45"/>
<circle cx="302.6" cy="122.0" r="0.45"/>
<circle cx="340.4" cy="106.0" r="0.45"/>
<circle cx="316.0" cy="110.9" r="0.45"/>
<circle cx="331.8" cy="101.7" r="0.45"/>
<circle cx="290.2" cy="101.3" r="0.45"/>
<circle cx="344.8" cy="99.3" r="0.45"/>
<circle cx="322.2" cy="100.9" r="0.45"/>
<circle cx="304.7" cy="100.1" r="0.45"/>
<circle cx="318.3" cy="100.0" r="0.45"/>
<circle cx="291.9" cy="98.3" r="0.45"/>
<circle cx="301.8" cy="109.7" r="0.45"/>
<circle cx="294.2" cy="95.7" r="0.45"/>
<circle cx="321.4" cy="107.2" r="0.45"/>
<circle cx="339.2" cy="96.5" r="0.45"/>
<circle cx="318.2" cy="106.9" r="0.45"/>
<circle cx="291.9" cy="124.0" r="0.45"/>
<circle cx="305.3" cy="97.8" r="0.45"/>
<circle cx="323.2" cy="99.9" r="0.45"/>
<circle cx="333.6" cy="105.4" r="0.45"/>
<circle cx="298.7" cy="96.6" r="0.45"/>
<circle cx="340.9" cy="103.3" r="0.45"/>
<circle cx="345.1" cy="109.0" r="0.45"/>
<circle cx="355.3" cy="104.0" r="0.45"/>
<circle cx="307.5" cy="103.0" r="0.45"/>
<circle cx="347.0" cy="113.9" r="0.45"/>
<circle cx="314.1" cy="97.8" r="0.45"/>
<circle cx="337.8" cy="124.1" r="0.45"/>
<circle cx="331.5" cy="95.1" r="0.45"/>
</g><g fill="#1a1a50">
<circle cx="144.8" cy="209.5" r="0.55"/>
<circle cx="167.3" cy="206.8" r="0.55"/>
<circle cx="148.6" cy="237.7" r="0.55"/>
<circle cx="284.0" cy="215.0" r="0.55"/>
<circle cx="295.8" cy="228.8" r="0.55"/>
<circle cx="268.6" cy="250.9" r="0.55"/>
<circle cx="290.4" cy="206.7" r="0.55"/>
<circle cx="188.8" cy="235.3" r="0.55"/>
<circle cx="291.4" cy="209.4" r="0.55"/>
<circle cx="186.9" cy="247.5" r="0.55"/>
<circle cx="158.3" cy="224.5" r="0.55"/>
<circle cx="193.5" cy="239.0" r="0.55"/>
<circle cx="288.6" cy="213.7" r="0.55"/>
<circle cx="258.4" cy="241.7" r="0.55"/>
<circle cx="273.7" cy="232.7" r="0.55"/>
<circle cx="287.8" cy="223.1" r="0.55"/>
<circle cx="206.4" cy="216.5" r="0.55"/>
<circle cx="264.7" cy="229.0" r="0.55"/>
<circle cx="183.1" cy="213.5" r="0.55"/>
<circle cx="255.3" cy="235.3" r="0.55"/>
<circle cx="253.7" cy="224.3" r="0.55"/>
<circle cx="217.9" cy="212.7" r="0.55"/>
<circle cx="253.7" cy="206.1" r="0.55"/>
<circle cx="214.7" cy="242.9" r="0.55"/>
<circle cx="248.4" cy="209.9" r="0.55"/>
<circle cx="177.9" cy="247.2" r="0.55"/>
<circle cx="242.8" cy="248.9" r="0.55"/>
<circle cx="279.6" cy="227.5" r="0.55"/>
<circle cx="283.5" cy="241.6" r="0.55"/>
<circle cx="193.4" cy="223.5" r="0.55"/>
<circle cx="151.5" cy="225.0" r="0.55"/>
<circle cx="292.9" cy="210.2" r="0.55"/>
<circle cx="231.0" cy="210.5" r="0.55"/>
<circle cx="152.9" cy="237.5" r="0.55"/>
<circle cx="178.5" cy="207.4" r="0.55"/>
<circle cx="164.4" cy="237.2" r="0.55"/>
<circle cx="233.7" cy="205.6" r="0.55"/>
<circle cx="176.8" cy="253.4" r="0.55"/>
<circle cx="175.2" cy="233.1" r="0.55"/>
<circle cx="207.1" cy="244.1" r="0.55"/>
<circle cx="236.7" cy="244.4" r="0.55"/>
<circle cx="225.6" cy="214.4" r="0.55"/>
<circle cx="168.4" cy="209.0" r="0.55"/>
<circle cx="272.1" cy="210.6" r="0.55"/>
<circle cx="143.8" cy="253.3" r="0.55"/>
<circle cx="178.4" cy="92.1" r="0.43"/>
<circle cx="194.8" cy="55.3" r="0.73"/>
<circle cx="204.2" cy="78.3" r="0.7"/>
<circle cx="220.0" cy="62.0" r="0.64"/>
<circle cx="193.6" cy="49.1" r="0.73"/>
<circle cx="202.9" cy="87.8" r="0.48"/>
<circle cx="199.4" cy="68.5" r="0.69"/>
<circle cx="170.8" cy="62.0" r="0.59"/>
<circle cx="211.6" cy="66.3" r="0.66"/>
<circle cx="203.6" cy="54.8" r="0.54"/>
<circle cx="227.7" cy="61.4" r="0.57"/>
<circle cx="171.2" cy="55.0" r="0.47"/>
<circle cx="204.0" cy="94.2" r="0.61"/>
<circle cx="192.0" cy="95.1" r="0.76"/>
<circle cx="224.9" cy="69.6" r="0.71"/>
<circle cx="191.2" cy="97.9" r="0.77"/>
<circle cx="184.1" cy="94.4" r="0.47"/>
<circle cx="184.2" cy="71.6" r="0.66"/>
<circle cx="183.1" cy="66.8" r="0.54"/>
<circle cx="183.8" cy="48.7" r="0.52"/>
<circle cx="191.5" cy="47.3" r="0.46"/>
<circle cx="220.3" cy="63.5" r="0.46"/>
<circle cx="185.3" cy="68.5" r="0.61"/>
<circle cx="199.6" cy="62.8" r="0.74"/>
<circle cx="183.7" cy="68.5" r="0.75"/>
<circle cx="216.0" cy="59.4" r="0.5"/>
<circle cx="216.0" cy="43.6" r="0.45"/>
<circle cx="198.9" cy="72.5" r="0.47"/>
<circle cx="169.1" cy="54.2" r="0.71"/>
<circle cx="194.9" cy="96.9" r="0.71"/>
<circle cx="226.7" cy="44.9" r="0.47"/>
<circle cx="187.0" cy="45.8" r="0.62"/>
<circle cx="171.8" cy="60.1" r="0.5"/>
<circle cx="215.7" cy="66.0" r="0.5"/>
<circle cx="204.9" cy="80.1" r="0.77"/>
<circle cx="216.1" cy="56.6" r="0.45"/>
<circle cx="197.5" cy="88.7" r="0.62"/>
<circle cx="183.3" cy="52.3" r="0.41"/>
<circle cx="222.2" cy="68.7" r="0.67"/>
<circle cx="203.4" cy="65.8" r="0.61"/>
<circle cx="176.6" cy="53.1" r="0.67"/>
<circle cx="191.3" cy="62.4" r="0.58"/>
<circle cx="215.8" cy="67.9" r="0.78"/>
<circle cx="175.6" cy="60.3" r="0.61"/>
<circle cx="191.5" cy="89.8" r="0.73"/>
<circle cx="200.1" cy="69.8" r="0.51"/>
<circle cx="189.0" cy="71.3" r="0.76"/>
<circle cx="177.2" cy="64.1" r="0.73"/>
<circle cx="185.6" cy="57.9" r="0.78"/>
<circle cx="224.5" cy="60.5" r="0.56"/>
<circle cx="183.5" cy="50.2" r="0.5"/>
<circle cx="226.8" cy="47.4" r="0.49"/>
<circle cx="178.4" cy="47.4" r="0.61"/>
<circle cx="166.3" cy="58.5" r="0.78"/>
<circle cx="170.3" cy="57.7" r="0.59"/>
<circle cx="182.6" cy="73.0" r="0.42"/>
<circle cx="180.6" cy="95.7" r="0.46"/>
<circle cx="222.1" cy="52.8" r="0.8"/>
<circle cx="174.8" cy="46.0" r="0.7"/>
<circle cx="176.9" cy="53.4" r="0.73"/>
<circle cx="220.2" cy="45.7" r="0.78"/>
<circle cx="199.2" cy="64.0" r="0.44"/>
<circle cx="190.2" cy="97.3" r="0.51"/>
<circle cx="174.1" cy="51.0" r="0.45"/>
<circle cx="187.8" cy="93.3" r="0.43"/>
<circle cx="181.2" cy="62.5" r="0.78"/>
<circle cx="196.1" cy="81.7" r="0.53"/>
<circle cx="201.3" cy="68.5" r="0.62"/>
<circle cx="193.4" cy="72.4" r="0.73"/>
<circle cx="178.4" cy="75.7" r="0.77"/>
<circle cx="218.6" cy="52.9" r="0.79"/>
<circle cx="218.1" cy="52.2" r="0.51"/>
<circle cx="178.5" cy="45.9" r="0.79"/>
<circle cx="191.4" cy="91.0" r="0.45"/>
<circle cx="213.5" cy="48.1" r="0.62"/>
<circle cx="193.4" cy="51.0" r="0.64"/>
<circle cx="186.0" cy="70.9" r="0.55"/>
<circle cx="185.7" cy="62.7" r="0.64"/>
<circle cx="183.8" cy="96.7" r="0.51"/>
<circle cx="173.6" cy="70.5" r="0.69"/>
<circle cx="187.1" cy="78.5" r="0.51"/>
<circle cx="225.9" cy="67.9" r="0.59"/>
<circle cx="198.9" cy="91.1" r="0.79"/>
<circle cx="198.8" cy="67.3" r="0.65"/>
<circle cx="170.3" cy="66.4" r="0.74"/>
<circle cx="214.2" cy="46.3" r="0.74"/>
<circle cx="189.8" cy="97.0" r="0.55"/>
<circle cx="179.3" cy="73.2" r="0.75"/>
<circle cx="192.7" cy="90.7" r="0.68"/>
<circle cx="188.4" cy="59.5" r="0.6"/>
<circle cx="190.7" cy="63.5" r="0.66"/>
<circle cx="175.1" cy="55.1" r="0.55"/>
<circle cx="204.1" cy="50.7" r="0.43"/>
<circle cx="185.9" cy="58.6" r="0.41"/>
<circle cx="199.4" cy="93.7" r="0.61"/>
<circle cx="193.4" cy="80.5" r="0.45"/>
<circle cx="220.6" cy="63.8" r="0.59"/>
<circle cx="221.2" cy="58.8" r="0.48"/>
<circle cx="171.3" cy="44.5" r="0.54"/>
<circle cx="177.4" cy="58.1" r="0.56"/>
<circle cx="197.7" cy="66.8" r="0.65"/>
<circle cx="206.9" cy="67.0" r="0.44"/>
<circle cx="171.2" cy="67.3" r="0.7"/>
<circle cx="227.5" cy="46.6" r="0.4"/>
<circle cx="195.8" cy="66.2" r="0.76"/>
<circle cx="217.2" cy="61.2" r="0.57"/>
<circle cx="202.1" cy="91.6" r="0.48"/>
<circle cx="190.3" cy="47.9" r="0.66"/>
<circle cx="198.5" cy="74.6" r="0.43"/>
<circle cx="180.4" cy="68.8" r="0.74"/>
<circle cx="199.4" cy="58.7" r="0.79"/>
<circle cx="178.5" cy="59.4" r="0.76"/>
<circle cx="174.2" cy="72.2" r="0.65"/>
<circle cx="188.0" cy="85.3" r="0.76"/>
<circle cx="178.6" cy="46.3" r="0.57"/>
<circle cx="185.3" cy="53.7" r="0.75"/>
<circle cx="179.4" cy="88.3" r="0.78"/>
<circle cx="190.6" cy="54.7" r="0.47"/>
<circle cx="189.8" cy="89.8" r="0.73"/>
<circle cx="169.5" cy="65.1" r="0.56"/>
<circle cx="177.0" cy="56.8" r="0.51"/>
<circle cx="209.0" cy="61.7" r="0.44"/>
<circle cx="179.7" cy="67.3" r="0.63"/>
<circle cx="181.2" cy="81.5" r="0.49"/>
<circle cx="176.9" cy="84.3" r="0.56"/>
<circle cx="199.5" cy="75.9" r="0.65"/>
<circle cx="277.9" cy="221.5" r="0.55"/>
<circle cx="261.3" cy="194.3" r="0.67"/>
<circle cx="269.9" cy="192.2" r="0.65"/>
<circle cx="294.6" cy="204.2" r="0.45"/>
<circle cx="272.4" cy="197.6" r="0.62"/>
<circle cx="257.2" cy="221.1" r="0.54"/>
<circle cx="258.1" cy="221.7" r="0.53"/>
<circle cx="254.4" cy="208.8" r="0.65"/>
<circle cx="231.2" cy="186.3" r="0.63"/>
<circle cx="259.2" cy="195.9" r="0.67"/>
<circle cx="285.8" cy="206.9" r="0.7"/>
<circle cx="281.9" cy="216.4" r="0.49"/>
<circle cx="215.9" cy="213.2" r="0.62"/>
<circle cx="243.1" cy="204.0" r="0.57"/>
<circle cx="235.0" cy="214.1" r="0.57"/>
<circle cx="245.8" cy="187.0" r="0.57"/>
<circle cx="240.6" cy="215.3" r="0.45"/>
<circle cx="246.6" cy="191.0" r="0.52"/>
<circle cx="219.4" cy="204.2" r="0.46"/>
<circle cx="255.4" cy="189.7" r="0.43"/>
<circle cx="258.0" cy="224.5" r="0.66"/>
<circle cx="256.2" cy="200.3" r="0.42"/>
<circle cx="237.1" cy="196.5" r="0.68"/>
<circle cx="224.4" cy="225.6" r="0.54"/>
<circle cx="249.7" cy="194.1" r="0.69"/>
<circle cx="229.9" cy="208.3" r="0.55"/>
<circle cx="231.0" cy="192.3" r="0.7"/>
<circle cx="278.3" cy="215.7" r="0.67"/>
<circle cx="222.9" cy="214.4" r="0.63"/>
<circle cx="233.0" cy="203.0" r="0.69"/>
<circle cx="241.1" cy="217.1" r="0.45"/>
<circle cx="268.4" cy="194.4" r="0.55"/>
<circle cx="244.8" cy="222.0" r="0.62"/>
<circle cx="255.3" cy="213.6" r="0.53"/>
<circle cx="258.5" cy="208.9" r="0.52"/>
<circle cx="162.3" cy="42.2" r="0.47"/>
<circle cx="162.6" cy="46.6" r="0.7"/>
<circle cx="162.3" cy="44.2" r="0.59"/>
<circle cx="161.8" cy="50.3" r="0.46"/>
<circle cx="160.8" cy="52.3" r="0.66"/>
<circle cx="162.2" cy="48.0" r="0.61"/>
<circle cx="159.6" cy="53.8" r="0.71"/>
<circle cx="159.2" cy="52.3" r="0.67"/>
<circle cx="160.6" cy="56.0" r="0.61"/>
<circle cx="162.8" cy="58.7" r="0.5"/>
<circle cx="162.8" cy="61.3" r="0.58"/>
<circle cx="163.7" cy="59.3" r="0.68"/>
<circle cx="166.9" cy="65.7" r="0.63"/>
<circle cx="165.3" cy="65.5" r="0.68"/>
<circle cx="165.4" cy="65.5" r="0.43"/>
<circle cx="170.9" cy="69.6" r="0.61"/>
<circle cx="169.4" cy="68.2" r="0.52"/>
<circle cx="170.2" cy="68.5" r="0.67"/>
<circle cx="177.7" cy="73.8" r="0.58"/>
<circle cx="176.1" cy="71.7" r="0.68"/>
<circle cx="175.9" cy="74.0" r="0.6"/>
<circle cx="180.8" cy="76.2" r="0.75"/>
<circle cx="179.3" cy="76.3" r="0.44"/>
<circle cx="180.5" cy="75.9" r="0.72"/>
<circle cx="180.5" cy="81.7" r="0.4"/>
<circle cx="182.4" cy="84.8" r="0.42"/>
<circle cx="181.1" cy="83.6" r="0.51"/>
<circle cx="180.2" cy="88.5" r="0.43"/>
<circle cx="179.4" cy="94.2" r="0.47"/>
<circle cx="181.8" cy="86.7" r="0.67"/>
<circle cx="180.5" cy="95.7" r="0.64"/>
<circle cx="181.3" cy="95.5" r="0.42"/>
<circle cx="181.0" cy="97.6" r="0.65"/>
<circle cx="177.6" cy="64.0" r="0.61"/>
<circle cx="175.8" cy="65.4" r="0.49"/>
<circle cx="177.0" cy="63.9" r="0.63"/>
<circle cx="185.6" cy="64.0" r="0.47"/>
<circle cx="180.5" cy="63.1" r="0.6"/>
<circle cx="182.9" cy="63.2" r="0.43"/>
<circle cx="186.9" cy="63.3" r="0.71"/>
<circle cx="187.7" cy="63.2" r="0.41"/>
<circle cx="189.1" cy="62.8" r="0.65"/>
<circle cx="189.8" cy="62.3" r="0.47"/>
<circle cx="192.2" cy="63.7" r="0.44"/>
<circle cx="192.5" cy="63.0" r="0.58"/>
<circle cx="194.8" cy="64.2" r="0.63"/>
<circle cx="197.7" cy="64.3" r="0.71"/>
<circle cx="197.6" cy="66.3" r="0.45"/>
<circle cx="203.5" cy="64.7" r="0.61"/>
<circle cx="203.0" cy="66.5" r="0.72"/>
<circle cx="199.7" cy="64.9" r="0.69"/>
<circle cx="205.8" cy="64.2" r="0.72"/>
<circle cx="204.1" cy="65.9" r="0.51"/>
<circle cx="207.2" cy="64.0" r="0.43"/>
<circle cx="214.2" cy="59.5" r="0.73"/>
<circle cx="211.9" cy="61.6" r="0.51"/>
<circle cx="211.0" cy="62.2" r="0.54"/>
<circle cx="218.0" cy="61.0" r="0.73"/>
<circle cx="220.6" cy="59.3" r="0.49"/>
<circle cx="215.9" cy="61.1" r="0.72"/>
<circle cx="201.3" cy="70.1" r="0.55"/>
<circle cx="204.6" cy="66.1" r="0.5"/>
<circle cx="200.3" cy="72.2" r="0.51"/>
<circle cx="198.0" cy="76.3" r="0.54"/>
<circle cx="200.3" cy="73.7" r="0.49"/>
<circle cx="200.7" cy="71.1" r="0.71"/>
<circle cx="195.7" cy="78.4" r="0.44"/>
<circle cx="196.7" cy="78.4" r="0.52"/>
<circle cx="196.7" cy="79.2" r="0.55"/>
<circle cx="190.3" cy="84.1" r="0.46"/>
<circle cx="189.9" cy="85.0" r="0.58"/>
<circle cx="189.7" cy="85.0" r="0.53"/>
<circle cx="189.3" cy="86.0" r="0.57"/>
<circle cx="186.6" cy="87.8" r="0.47"/>
<circle cx="182.7" cy="89.7" r="0.46"/>
<circle cx="180.5" cy="89.1" r="0.59"/>
<circle cx="181.8" cy="91.1" r="0.74"/>
<circle cx="183.1" cy="88.0" r="0.66"/>
</g></g>
<polygon points="89.8,147.8 95.3,147.8 95.3,159.3 89.8,159.3" fill="#7a7070" stroke="#555" stroke-width="0.4"/>
<polygon points="72.2,41.0 370.0,40.8 373.6,45.9 376.4,50.5 379.1,53.2 377.3,58.6 380.9,64.1 379.1,68.6 371.8,71.4 368.2,76.8 367.3,82.3 368.2,89.5 370.0,96.8 370.9,102.3 366.4,103.6 359.1,105.5 355.5,110.0 350.0,112.7 344.5,114.5 342.7,120.0 339.1,122.7 331.8,121.8 326.4,124.5 322.7,129.1 317.3,132.7 310.0,135.5 304.5,140.0 300.9,140.9 295.5,139.1 290.0,136.4 285.5,131.0 280.0,125.0 276.0,120.5 273.6,120.9 270.0,123.6 262.7,127.3 257.3,132.7 250.0,136.4 244.5,141.8 239.1,146.4 233.6,147.3 232.7,149.1 237.3,151.8 243.6,154.0 249.0,159.5 257.3,163.6 266.4,170.0 273.6,172.7 284.5,173.6 293.6,173.6 297.3,175.5 293.6,178.2 290.0,181.8 290.9,187.3 294.5,191.8 295.5,195.5 293.6,201.8 297.3,208.2 302.7,209.1 311.8,209.1 316.4,212.7 319.1,220.0 315.5,226.0 312.7,230.5 317.3,233.2 322.7,235.9 324.5,240.5 323.6,246.8 324.5,252.3 327.3,257.7 324.5,262.3 319.1,261.4 311.8,262.3 304.5,266.8 302.7,271.4 304.5,275.9 309.1,278.6 302.7,277.7 299.1,278.6 293.6,279.5 286.4,273.6 277.3,269.5 268.2,267.7 260.9,266.8 255.5,260.5 250.0,255.9 242.7,255.0 235.5,256.8 228.2,256.8 219.1,251.4 213.6,249.5 208.2,253.2 200.9,259.5 195.5,256.8 188.2,255.9 182.7,257.7 178.2,260.5 173.6,255.0 166.4,251.4 159.1,248.6 154.5,249.5 150.9,246.8 145.5,241.4 140.0,235.0 136.4,229.5 132.7,224.1 129.1,220.5 118.0,220.3 96.2,220.3 90.7,219.2 86.4,219.7 80.9,213.2 74.4,206.6 68.4,199.5 75.1,194.9 81.6,192.7 87.6,190.0 88.7,185.1 88.2,176.4 87.6,170.9 84.9,166.5 82.2,160.0 78.4,154.9 75.1,152.7 77.3,150.5 79.5,145.1 78.4,138.5 72.0,132.2 71.4,124.6 70.8,117.6 68.5,113.5 66.1,110.5 70.0,107.0 73.7,104.1 76.6,107.6 79.6,107.6 84.3,104.7 85.5,100.5 83.4,96.8 78.3,93.9 75.4,91.7 71.7,88.1 67.4,83.7 63.7,80.1 65.3,78.2 68.0,74.9 69.6,70.5 71.0,67.3 75.5,64.0 76.4,61.3 76.5,56.0 76.2,49.8 74.0,45.0 72.6,42.0" fill="none" stroke="#333" stroke-width="0.6" stroke-opacity="0.8"/></g>
<rect x="46.6" y="28.2" width="350.70" height="263.80" fill="none" stroke="#333" stroke-width="1.07"/>
<g stroke="#333" stroke-width="1.07">
<line x1="70.90" y1="292.00" x2="70.90" y2="295.80"/>
<line x1="117.53" y1="292.00" x2="117.53" y2="295.80"/>
<line x1="164.16" y1="292.00" x2="164.16" y2="295.80"/>
<line x1="210.79" y1="292.00" x2="210.79" y2="295.80"/>
<line x1="257.42" y1="292.00" x2="257.42" y2="295.80"/>
<line x1="304.05" y1="292.00" x2="304.05" y2="295.80"/>
<line x1="350.68" y1="292.00" x2="350.68" y2="295.80"/>
<line x1="397.31" y1="292.00" x2="397.31" y2="295.80"/>
<line x1="42.80" y1="33.10" x2="46.60" y2="33.10"/>
<line x1="42.80" y1="67.64" x2="46.60" y2="67.64"/>
<line x1="42.80" y1="102.18" x2="46.60" y2="102.18"/>
<line x1="42.80" y1="136.72" x2="46.60" y2="136.72"/>
<line x1="42.80" y1="171.26" x2="46.60" y2="171.26"/>
<line x1="42.80" y1="205.80" x2="46.60" y2="205.80"/>
<line x1="42.80" y1="240.34" x2="46.60" y2="240.34"/>
<line x1="42.80" y1="274.88" x2="46.60" y2="274.88"/>
</g>
<text transform="translate(70.90,307.00) scale(1.04,1)" class="ax" text-anchor="middle">122.4°W</text>
<text transform="translate(117.53,307.00) scale(1.04,1)" class="ax" text-anchor="middle">122.2°W</text>
<text transform="translate(164.16,307.00) scale(1.04,1)" class="ax" text-anchor="middle">122.0°W</text>
<text transform="translate(210.79,307.00) scale(1.04,1)" class="ax" text-anchor="middle">121.8°W</text>
<text transform="translate(257.42,307.00) scale(1.04,1)" class="ax" text-anchor="middle">121.6°W</text>
<text transform="translate(304.05,307.00) scale(1.04,1)" class="ax" text-anchor="middle">121.4°W</text>
<text transform="translate(350.68,307.00) scale(1.04,1)" class="ax" text-anchor="middle">121.2°W</text>
<text transform="translate(397.31,307.00) scale(1.04,1)" class="ax" text-anchor="middle">121.0°W</text>
<text transform="translate(40.20,37.10) scale(1.05,1)" class="ax" text-anchor="end">47.8°N</text>
<text transform="translate(40.20,71.64) scale(1.05,1)" class="ax" text-anchor="end">47.7°N</text>
<text transform="translate(40.20,106.18) scale(1.05,1)" class="ax" text-anchor="end">47.6°N</text>
<text transform="translate(40.20,140.72) scale(1.05,1)" class="ax" text-anchor="end">47.5°N</text>
<text transform="translate(40.20,175.26) scale(1.05,1)" class="ax" text-anchor="end">47.4°N</text>
<text transform="translate(40.20,209.80) scale(1.05,1)" class="ax" text-anchor="end">47.3°N</text>
<text transform="translate(40.20,244.34) scale(1.05,1)" class="ax" text-anchor="end">47.2°N</text>
<text transform="translate(40.20,278.88) scale(1.05,1)" class="ax" text-anchor="end">47.1°N</text>
<text transform="translate(419.40,98.60) scale(1.035,1)" class="lt">Vaccine Sites</text>
<text transform="translate(419.40,113.30) scale(1.03,1)" class="lt">per 100,000 Children</text>
<rect x="419.1" y="122.60" width="22.1" height="109.90" fill="url(#g1)"/>
<g stroke="#fff" stroke-width="0.8" opacity="0.9">
<line x1="419.1" y1="205.03" x2="423.5" y2="205.03"/><line x1="436.8" y1="205.03" x2="441.2" y2="205.03"/>
<line x1="419.1" y1="177.55" x2="423.5" y2="177.55"/><line x1="436.8" y1="177.55" x2="441.2" y2="177.55"/>
<line x1="419.1" y1="150.07" x2="423.5" y2="150.07"/><line x1="436.8" y1="150.07" x2="441.2" y2="150.07"/>
</g>
<text transform="translate(448.50,236.70) scale(1.0,1)" class="ll">0</text>
<text transform="translate(448.50,209.22) scale(1.0,1)" class="ll">50</text>
<text transform="translate(448.50,181.75) scale(1.0,1)" class="ll">100</text>
<text transform="translate(448.50,154.27) scale(1.0,1)" class="ll">150</text>
<text transform="translate(448.50,126.80) scale(1.0,1)" class="ll">200</text>
<text transform="translate(47.10,385.30) scale(1.047,1)" class="title">Vaccine Accessibility - School Age</text>
<g stroke="#EBEBEB" stroke-width="1.07">
<line x1="70.90" y1="396.60" x2="70.90" y2="660.40"/>
<line x1="117.53" y1="396.60" x2="117.53" y2="660.40"/>
<line x1="164.16" y1="396.60" x2="164.16" y2="660.40"/>
<line x1="210.79" y1="396.60" x2="210.79" y2="660.40"/>
<line x1="257.42" y1="396.60" x2="257.42" y2="660.40"/>
<line x1="304.05" y1="396.60" x2="304.05" y2="660.40"/>
<line x1="350.68" y1="396.60" x2="350.68" y2="660.40"/>
<line x1="397.31" y1="396.60" x2="397.31" y2="660.40"/>
<line x1="46.60" y1="401.50" x2="397.30" y2="401.50"/>
<line x1="46.60" y1="436.04" x2="397.30" y2="436.04"/>
<line x1="46.60" y1="470.58" x2="397.30" y2="470.58"/>
<line x1="46.60" y1="505.12" x2="397.30" y2="505.12"/>
<line x1="46.60" y1="539.66" x2="397.30" y2="539.66"/>
<line x1="46.60" y1="574.20" x2="397.30" y2="574.20"/>
<line x1="46.60" y1="608.74" x2="397.30" y2="608.74"/>
<line x1="46.60" y1="643.28" x2="397.30" y2="643.28"/>
</g>
<g transform="translate(0,368.4)"><clipPath id="cty2"><polygon points="72.2,41.0 370.0,40.8 373.6,45.9 376.4,50.5 379.1,53.2 377.3,58.6 380.9,64.1 379.1,68.6 371.8,71.4 368.2,76.8 367.3,82.3 368.2,89.5 370.0,96.8 370.9,102.3 366.4,103.6 359.1,105.5 355.5,110.0 350.0,112.7 344.5,114.5 342.7,120.0 339.1,122.7 331.8,121.8 326.4,124.5 322.7,129.1 317.3,132.7 310.0,135.5 304.5,140.0 300.9,140.9 295.5,139.1 290.0,136.4 285.5,131.0 280.0,125.0 276.0,120.5 273.6,120.9 270.0,123.6 262.7,127.3 257.3,132.7 250.0,136.4 244.5,141.8 239.1,146.4 233.6,147.3 232.7,149.1 237.3,151.8 243.6,154.0 249.0,159.5 257.3,163.6 266.4,170.0 273.6,172.7 284.5,173.6 293.6,173.6 297.3,175.5 293.6,178.2 290.0,181.8 290.9,187.3 294.5,191.8 295.5,195.5 293.6,201.8 297.3,208.2 302.7,209.1 311.8,209.1 316.4,212.7 319.1,220.0 315.5,226.0 312.7,230.5 317.3,233.2 322.7,235.9 324.5,240.5 323.6,246.8 324.5,252.3 327.3,257.7 324.5,262.3 319.1,261.4 311.8,262.3 304.5,266.8 302.7,271.4 304.5,275.9 309.1,278.6 302.7,277.7 299.1,278.6 293.6,279.5 286.4,273.6 277.3,269.5 268.2,267.7 260.9,266.8 255.5,260.5 250.0,255.9 242.7,255.0 235.5,256.8 228.2,256.8 219.1,251.4 213.6,249.5 208.2,253.2 200.9,259.5 195.5,256.8 188.2,255.9 182.7,257.7 178.2,260.5 173.6,255.0 166.4,251.4 159.1,248.6 154.5,249.5 150.9,246.8 145.5,241.4 140.0,235.0 136.4,229.5 132.7,224.1 129.1,220.5 118.0,220.3 96.2,220.3 90.7,219.2 86.4,219.7 80.9,213.2 74.4,206.6 68.4,199.5 75.1,194.9 81.6,192.7 87.6,190.0 88.7,185.1 88.2,176.4 87.6,170.9 84.9,166.5 82.2,160.0 78.4,154.9 75.1,152.7 77.3,150.5 79.5,145.1 78.4,138.5 72.0,132.2 71.4,124.6 70.8,117.6 68.5,113.5 66.1,110.5 70.0,107.0 73.7,104.1 76.6,107.6 79.6,107.6 84.3,104.7 85.5,100.5 83.4,96.8 78.3,93.9 75.4,91.7 71.7,88.1 67.4,83.7 63.7,80.1 65.3,78.2 68.0,74.9 69.6,70.5 71.0,67.3 75.5,64.0 76.4,61.3 76.5,56.0 76.2,49.8 74.0,45.0 72.6,42.0"/></clipPath>
<polygon points="72.2,41.0 370.0,40.8 373.6,45.9 376.4,50.5 379.1,53.2 377.3,58.6 380.9,64.1 379.1,68.6 371.8,71.4 368.2,76.8 367.3,82.3 368.2,89.5 370.0,96.8 370.9,102.3 366.4,103.6 359.1,105.5 355.5,110.0 350.0,112.7 344.5,114.5 342.7,120.0 339.1,122.7 331.8,121.8 326.4,124.5 322.7,129.1 317.3,132.7 310.0,135.5 304.5,140.0 300.9,140.9 295.5,139.1 290.0,136.4 285.5,131.0 280.0,125.0 276.0,120.5 273.6,120.9 270.0,123.6 262.7,127.3 257.3,132.7 250.0,136.4 244.5,141.8 239.1,146.4 233.6,147.3 232.7,149.1 237.3,151.8 243.6,154.0 249.0,159.5 257.3,163.6 266.4,170.0 273.6,172.7 284.5,173.6 293.6,173.6 297.3,175.5 293.6,178.2 290.0,181.8 290.9,187.3 294.5,191.8 295.5,195.5 293.6,201.8 297.3,208.2 302.7,209.1 311.8,209.1 316.4,212.7 319.1,220.0 315.5,226.0 312.7,230.5 317.3,233.2 322.7,235.9 324.5,240.5 323.6,246.8 324.5,252.3 327.3,257.7 324.5,262.3 319.1,261.4 311.8,262.3 304.5,266.8 302.7,271.4 304.5,275.9 309.1,278.6 302.7,277.7 299.1,278.6 293.6,279.5 286.4,273.6 277.3,269.5 268.2,267.7 260.9,266.8 255.5,260.5 250.0,255.9 242.7,255.0 235.5,256.8 228.2,256.8 219.1,251.4 213.6,249.5 208.2,253.2 200.9,259.5 195.5,256.8 188.2,255.9 182.7,257.7 178.2,260.5 173.6,255.0 166.4,251.4 159.1,248.6 154.5,249.5 150.9,246.8 145.5,241.4 140.0,235.0 136.4,229.5 132.7,224.1 129.1,220.5 118.0,220.3 96.2,220.3 90.7,219.2 86.4,219.7 80.9,213.2 74.4,206.6 68.4,199.5 75.1,194.9 81.6,192.7 87.6,190.0 88.7,185.1 88.2,176.4 87.6,170.9 84.9,166.5 82.2,160.0 78.4,154.9 75.1,152.7 77.3,150.5 79.5,145.1 78.4,138.5 72.0,132.2 71.4,124.6 70.8,117.6 68.5,113.5 66.1,110.5 70.0,107.0 73.7,104.1 76.6,107.6 79.6,107.6 84.3,104.7 85.5,100.5 83.4,96.8 78.3,93.9 75.4,91.7 71.7,88.1 67.4,83.7 63.7,80.1 65.3,78.2 68.0,74.9 69.6,70.5 71.0,67.3 75.5,64.0 76.4,61.3 76.5,56.0 76.2,49.8 74.0,45.0 72.6,42.0" fill="#4d80e6"/>
<g clip-path="url(#cty2)" stroke="#585868" stroke-width="0.55" stroke-opacity="0.8" stroke-linejoin="round">
<polygon points="55.0,40.0 100.0,40.0 100.0,66.7 55.0,66.7" fill="#4c7be5"/>
<polygon points="100.0,40.0 112.0,40.0 112.0,58.0 100.0,58.0" fill="#4970e2"/>
<polygon points="112.0,40.0 127.0,40.0 127.0,54.0 112.0,54.0" fill="#4e87e7"/>
<polygon points="125.0,40.0 142.0,40.0 142.0,58.0 125.0,58.0" fill="#4e8be8"/>
<polygon points="104.0,54.0 127.0,54.0 127.0,67.0 104.0,67.0" fill="#4e8be8"/>
<polygon points="55.0,66.7 104.0,66.7 104.0,85.0 55.0,85.0" fill="#4ea7ee"/>
<polygon points="55.0,66.7 81.0,66.7 81.0,78.0 55.0,78.0" fill="#4e90e9"/>
<polygon points="55.0,76.0 76.0,76.0 76.0,92.0 55.0,92.0" fill="#4a75e3"/>
<polygon points="104.0,67.0 127.0,67.0 127.0,84.0 104.0,84.0" fill="#4ea7ee"/>
<polygon points="126.7,61.8 128.9,58.5 134.4,59.1 136.5,57.5 139.8,56.4 143.1,60.2 144.7,61.8 144.7,86.0 126.7,86.0" fill="#4f92ea"/>
<polygon points="144.7,58.0 175.0,58.0 175.0,86.0 144.7,86.0" fill="#4b79e4"/>
<polygon points="76.0,85.0 104.0,85.0 104.0,121.0 76.0,121.0" fill="#48c4f4"/>
<polygon points="55.0,100.0 75.5,100.0 75.5,132.0 55.0,132.0" fill="#3b4bd9"/>
<polygon points="75.5,100.0 80.0,100.0 80.0,136.0 75.5,136.0" fill="#445ede"/>
<polygon points="80.0,100.0 86.0,100.0 86.0,136.0 80.0,136.0" fill="#4ea7ee"/>
<polygon points="104.0,84.0 140.0,84.0 140.0,125.0 104.0,125.0" fill="#4abef3"/>
<polygon points="145.0,86.0 197.0,86.0 197.0,116.0 145.0,116.0" fill="#4b79e4"/>
<polygon points="55.0,132.0 86.0,132.0 86.0,186.2 55.0,186.2" fill="#4db0f0"/>
<polygon points="55.0,155.0 87.0,155.0 87.0,186.2 55.0,186.2" fill="#46cbf6"/>
<polygon points="86.0,120.0 105.0,120.0 105.0,165.0 86.0,165.0" fill="#39e0fa"/>
<polygon points="105.0,120.0 126.0,120.0 126.0,160.0 105.0,160.0" fill="#43d0f6"/>
<polygon points="118.0,141.0 152.0,141.0 152.0,160.0 118.0,160.0" fill="#4bb9f2"/>
<polygon points="86.0,160.0 128.0,160.0 128.0,188.0 86.0,188.0" fill="#39e0fa"/>
<polygon points="127.0,160.0 150.0,160.0 150.0,196.0 127.0,196.0" fill="#4bb9f2"/>
<polygon points="148.0,150.0 178.0,150.0 192.7,140.0 199.0,160.0 200.0,173.1 185.8,175.3 174.9,174.2 167.3,176.4 159.6,178.5 148.0,178.0" fill="#4e8be8"/>
<polygon points="159.6,178.5 167.3,176.4 174.9,174.2 185.8,175.3 200.0,173.1 204.5,180.9 208.2,191.8 211.8,202.7 215.0,210.0 212.7,213.1 205.5,210.2 198.2,207.3 188.0,207.3 179.3,208.7 170.0,205.0 168.4,197.1 161.8,193.8 162.9,188.4 160.7,185.1" fill="#4665df"/>
<polygon points="126.0,116.0 140.0,116.0 147.0,115.5 156.0,123.6 167.0,121.8 176.0,125.5 185.5,127.3 191.0,134.5 192.7,140.0 187.0,145.5 180.0,149.0 174.5,154.5 169.0,160.0 162.0,154.5 156.0,149.0 151.0,143.6 145.5,141.8 126.0,141.0" fill="#4f97eb"/>
<polygon points="126.0,110.0 140.0,110.0 142.0,116.0 145.5,141.8 141.8,143.8 126.0,143.8" fill="#4cb4f1"/>
<polygon points="174.0,100.0 197.0,100.0 199.1,101.8 200.9,112.7 202.7,121.8 208.2,125.5 200.0,128.0 192.7,138.0 191.0,134.5 185.5,127.3 176.0,125.5 172.0,116.0" fill="#445ede"/>
<polygon points="55.0,186.2 87.0,186.2 87.0,222.0 55.0,222.0" fill="#4fa2ed"/>
<polygon points="87.0,186.2 118.0,186.2 118.0,222.0 87.0,222.0" fill="#47c9f5"/>
<polygon points="118.0,188.0 150.0,190.0 160.7,185.1 162.9,188.4 161.8,193.8 168.4,197.1 177.3,199.1 168.2,208.2 160.9,213.6 150.9,211.3 146.0,215.0 140.0,222.0 136.4,229.5 103.2,230.0 103.2,214.0 118.0,214.0" fill="#4ea9ef"/>
<polygon points="217.3,134.5 220.9,141.8 228.2,145.5 233.6,147.3 232.7,149.1 237.3,151.8 243.6,154.0 249.0,159.5 257.3,163.6 266.4,170.0 273.6,172.7 284.5,173.6 293.6,173.6 297.3,175.5 293.6,178.2 290.0,181.8 290.9,187.3 294.5,191.8 295.5,194.5 290.0,197.3 277.3,200.0 271.8,196.4 262.7,189.1 251.8,183.6 240.9,178.2 233.6,174.5 230.0,170.9 226.4,168.2 219.1,166.4 210.0,167.3 204.5,170.0 199.1,174.5 199.0,160.0 192.7,140.0 200.0,128.0 208.2,125.5 217.3,129.1" fill="#3e50da"/>
<polygon points="176.7,150.4 189.8,143.8 192.0,135.1 198.0,140.0 202.0,150.0 205.0,160.0 203.0,170.0 199.0,174.5 185.8,175.3 174.9,174.2 172.4,156.9" fill="#4e90e9"/>
<polygon points="199.1,174.5 204.5,170.0 210.0,167.3 219.1,166.4 226.4,168.2 233.6,174.5 240.9,178.2 251.8,183.6 262.7,189.1 271.8,196.4 277.3,200.0 290.0,197.3 300.0,194.0 340.0,200.0 340.0,290.0 140.0,290.0 136.4,229.5 140.0,222.0 146.0,215.0 150.9,211.3 155.3,210.5 161.1,210.5 169.8,209.1 179.3,208.7 188.0,207.3 198.2,207.3 205.5,210.2 212.7,213.1 217.3,212.7 211.8,202.7 208.2,191.8 204.5,180.9" fill="#4054dc"/>
<polygon points="223.6,68.9 230.9,68.6 226.4,71.4 223.6,76.8 227.3,82.3 229.1,85.5 232.7,94.5 230.9,107.3 229.1,120.0 224.5,125.5 217.3,129.1 208.2,125.5 202.7,121.8 200.9,112.7 199.1,101.8 195.5,98.2 197.3,90.9 203.6,88.9 209.1,74.4 216.4,67.1" fill="#486be1"/>
<polygon points="229.1,85.5 235.5,87.3 242.7,83.6 250.0,81.8 255.5,85.5 260.9,90.9 264.5,100.0 266.4,109.1 270.0,114.5 273.6,119.1 276.0,120.5 273.6,120.9 270.0,123.6 262.7,127.3 257.3,132.7 250.0,136.4 244.5,141.8 239.1,146.4 233.6,147.3 228.2,145.5 220.9,141.8 217.3,134.5 219.1,129.1 224.5,125.5 229.1,120.0 230.9,107.3 232.7,94.5" fill="#3f52db"/>
<polygon points="140.9,40.0 163.6,40.0 161.6,41.3 163.8,46.5 162.7,56.4 159.5,58.5 154.0,60.7 148.5,64.0 144.2,64.0 145.3,56.4 144.2,48.7 140.9,45.5" fill="#4769e0"/>
<polygon points="161.6,40.0 242.5,40.0 241.8,49.5 234.5,52.3 230.0,56.8 229.1,62.3 230.9,68.6 223.6,68.9 216.4,67.1 209.1,74.4 203.6,88.9 194.5,96.2 187.3,101.6 180.0,101.6 176.4,92.5 171.5,85.0 169.3,72.7 164.9,64.0 162.7,56.4 163.8,46.5" fill="#353ed7"/>
<polygon points="242.5,40.0 400.0,40.0 400.0,150.0 300.9,140.9 295.5,139.1 290.0,136.4 285.5,130.0 280.0,124.0 276.0,120.5 272.7,116.0 266.0,110.0 265.5,98.6 261.8,89.5 256.4,82.3 250.9,80.5 243.6,83.2 234.5,88.6 230.0,85.9 227.3,82.3 223.6,76.8 226.4,71.4 230.9,68.6 229.1,62.3 230.0,56.8 234.5,52.3 241.8,49.5" fill="#0000cd"/>
</g>
<g clip-path="url(#cty2)" fill="none" stroke-linejoin="round" stroke-linecap="round">
<g stroke="#585868" stroke-width="0.5" stroke-opacity="0.8">
<polyline points="80.9,41.0 80.9,66.7"/>
<polyline points="87.1,41.0 87.1,66.7"/>
<polyline points="87.0,55.3 100.0,55.3"/>
<polyline points="76.0,58.5 87.0,58.5"/>
<polyline points="66.0,66.7 104.0,66.7"/>
<polyline points="66.0,76.4 100.0,76.4"/>
<polyline points="79.5,66.7 79.5,85.0"/>
<polyline points="87.6,66.7 87.6,85.0"/>
<polyline points="112.2,41.0 112.2,58.0"/>
<polyline points="104.0,58.0 122.0,58.0"/>
<polyline points="112.0,53.0 127.0,53.0"/>
<polyline points="122.0,41.0 122.0,67.0"/>
<polyline points="127.0,41.0 127.0,60.0"/>
<polyline points="117.0,54.0 117.0,67.0"/>
<polyline points="110.0,67.0 110.0,84.0"/>
<polyline points="118.0,67.0 118.0,84.0"/>
<polyline points="122.0,67.0 122.0,90.0"/>
<polyline points="104.0,75.0 127.0,75.0"/>
<polyline points="76.0,85.0 98.0,85.0"/>
<polyline points="80.0,85.0 80.0,100.0"/>
<polyline points="88.0,92.0 88.0,120.0"/>
<polyline points="93.0,85.0 93.0,120.0"/>
<polyline points="86.0,100.0 98.0,100.0"/>
<polyline points="86.0,110.0 98.0,110.0"/>
<polyline points="76.0,120.0 98.0,120.0"/>
<polyline points="96.4,100.0 96.4,118.0"/>
<polyline points="73.6,107.0 73.6,133.0"/>
<polyline points="78.2,107.0 78.2,133.0"/>
<polyline points="82.0,100.0 82.0,135.0"/>
<polyline points="71.0,132.7 96.0,132.7"/>
<polyline points="66.0,116.0 86.0,116.0"/>
<polyline points="87.3,100.0 87.3,186.0"/>
<polyline points="96.4,118.0 96.4,135.0"/>
<polyline points="87.3,118.2 105.5,145.5 107.3,175.0"/>
<polyline points="78.0,145.5 122.0,145.5"/>
<polyline points="87.0,161.8 105.0,161.8"/>
<polyline points="121.8,118.0 121.8,175.0"/>
<polyline points="118.2,118.2 125.5,121.8 140.0,123.6 147.3,116.4"/>
<polyline points="125.5,121.8 127.3,130.9 136.4,132.7 143.6,143.6 150.9,150.9"/>
<polyline points="107.0,141.8 122.0,141.8"/>
<polyline points="114.5,145.0 114.5,175.0"/>
<polyline points="96.0,152.0 122.0,152.0"/>
<polyline points="121.5,84.0 121.5,116.0"/>
<polyline points="128.4,84.0 128.4,116.0"/>
<polyline points="133.5,84.0 133.5,116.0"/>
<polyline points="128.0,58.0 128.0,84.0"/>
<polyline points="135.0,58.0 135.0,85.0"/>
<polyline points="127.0,70.0 145.0,70.0"/>
<polyline points="127.0,78.0 145.0,78.0"/>
<polyline points="147.0,104.0 174.0,104.0"/>
<polyline points="175.0,62.0 175.0,100.0"/>
<polyline points="145.0,74.0 165.0,74.0"/>
<polyline points="176.0,125.5 180.0,140.0 178.0,150.0"/>
<polyline points="85.0,186.4 114.5,186.4"/>
<polyline points="87.3,186.0 87.3,220.0"/>
<polyline points="96.4,186.0 96.4,220.0"/>
<polyline points="111.0,186.0 111.0,220.0"/>
<polyline points="103.6,160.0 103.6,186.0"/>
<polyline points="112.7,160.0 112.7,186.0"/>
<polyline points="92.7,160.0 96.4,186.0"/>
<polyline points="125.5,160.0 125.5,187.0"/>
<polyline points="138.0,150.0 138.0,190.0"/>
<polyline points="125.0,176.0 148.0,176.0"/>
<polyline points="195.0,98.0 200.0,112.0 203.0,122.0"/>
</g>
<g stroke="#707098" stroke-width="1.05" stroke-opacity="0.9">
<polyline points="282.0,41.5 293.5,51.4 301.7,57.9 306.6,62.8"/>
<polyline points="288.6,41.5 296.8,51.4 303.4,59.5"/>
<polyline points="323.0,41.5 319.7,54.6 316.4,62.8 306.6,62.8"/>
<polyline points="306.6,62.8 326.3,64.5 352.4,61.2 368.8,59.5"/>
<polyline points="306.6,62.8 306.6,77.5 309.9,93.9"/>
<polyline points="326.3,64.5 329.5,84.1 327.9,90.6"/>
<polyline points="306.6,62.8 290.3,66.1 264.1,67.7 254.3,66.1"/>
<polyline points="236.0,67.0 231.8,66.8 228.0,68.0"/>
</g>
<g stroke="#0a0a30" stroke-width="1.0">
<polyline points="293.6,201.8 297.3,208.2 302.7,209.1 311.8,209.1 316.4,212.7 319.1,220.0 315.5,226.0 312.7,230.5 317.3,233.2 322.7,235.9 324.5,240.5 323.6,246.8 324.5,252.3 327.3,257.7 324.5,262.3 319.1,261.4 311.8,262.3 304.5,266.8 302.7,271.4 304.5,275.9 309.1,278.6 302.7,277.7 299.1,278.6 293.6,279.5 286.4,273.6 277.3,269.5 268.2,267.7 260.9,266.8 255.5,260.5 250.0,255.9 242.7,255.0 235.5,256.8 228.2,256.8 219.1,251.4 213.6,249.5 208.2,253.2 200.9,259.5 195.5,256.8 188.2,255.9 182.7,257.7 178.2,260.5 173.6,255.0 166.4,251.4 159.1,248.6 154.5,249.5 150.9,246.8 145.5,241.4 140.0,235.0 136.4,229.5 132.7,224.1 129.1,220.5" stroke-width="1.1"/>
<polyline points="163.1,41.6 162.4,46.7 160.2,52.5 161.6,58.4 164.5,64.2 168.9,68.5 174.7,71.5 179.1,74.4 182.0,78.7 181.3,86.0 180.5,93.3 179.8,100.0"/>
<polyline points="176.2,64.9 179.1,63.5 186.4,64.2 189.3,62.7 193.6,63.5 198.0,65.6 203.8,65.6 209.6,62.7 215.5,59.8 221.3,60.5"/>
<polyline points="203.8,66.4 200.9,71.5 198.0,77.3 193.6,81.6 189.3,86.0 183.5,88.9 180.5,90.4"/>
<polyline points="192.2,49.6 192.9,55.5 195.1,61.3"/>
<polyline points="198.0,42.4 199.5,51.1 198.0,59.8 196.5,62.7"/>
<polyline points="170.4,40.9 173.3,44.5 167.5,49.6 166.0,54.0"/>
<polyline points="140.2,41.5 141.0,45.8 145.3,48.7 144.5,61.8 146.7,64.7 151.8,62.5 157.6,58.9 161.6,58.4"/>
<polyline points="117.5,188.7 124.7,188.7 126.9,191.6 129.1,194.5 127.6,198.9 133.5,198.9 136.4,196.0 142.2,196.0 145.1,198.9 149.5,197.5 150.9,201.8 149.5,206.2 152.4,209.1 155.3,210.5 158.2,212.0"/>
<polyline points="117.5,188.7 115.3,193.1 116.7,198.9 118.9,204.0 121.8,205.5 127.6,209.1 134.9,212.0 140.7,212.7 146.5,211.3 150.9,211.3 155.3,210.5 161.1,210.5 169.8,209.1 177.1,204.7 180.0,201.8"/>
<polyline points="102.9,216.4 107.3,214.9 111.6,216.4 116.0,214.2 120.4,214.9 124.7,216.4 129.1,219.3 130.5,221.0"/>
<polyline points="118.9,204.0 117.5,209.1 116.0,214.2"/>
<polyline points="217.3,213.0 219.0,215.5 222.7,220.5 228.2,225.9 235.5,228.6 250.0,230.5 259.1,233.2 266.4,237.7 277.3,237.7 286.4,235.9 293.6,234.1"/>
<polyline points="172.0,45.0 176.0,52.0 181.0,56.0 186.0,57.0"/>
<polyline points="206.0,44.0 210.0,50.0 214.0,55.0 221.0,60.5"/>
<polyline points="186.0,70.0 190.0,75.0 188.0,80.0"/>
<polyline points="200.0,82.0 205.0,78.0 210.0,72.0"/>
<polyline points="228.0,44.0 232.0,50.0 236.0,52.0"/>
</g>
</g>
<polygon points="102.5,48.3 103.9,49.0 102.5,52.3 102.9,56.9 104.2,62.2 105.9,65.5 109.2,67.8 113.1,66.8 113.8,71.4 115.1,76.7 115.5,82.9 115.3,84.5 113.0,86.2 108.0,86.7 107.9,90.0 108.4,93.8 109.6,96.0 113.3,98.9 114.7,104.1 117.0,108.5 119.1,110.0 117.7,114.3 117.0,120.2 116.5,125.3 116.0,130.2 116.5,134.5 114.4,135.9 111.6,134.5 107.3,131.8 104.0,128.5 103.5,122.0 104.1,120.2 103.0,115.8 100.1,111.4 98.2,105.5 98.2,99.7 98.6,92.3 99.3,87.5 97.9,86.6 96.0,85.0 96.6,84.3 100.6,84.6 101.8,82.9 103.2,82.0 105.2,78.0 105.9,73.4 103.2,70.1 101.6,66.8 100.6,62.2 98.9,56.9 98.6,52.9 99.9,49.6" fill="#fff" stroke="#707080" stroke-width="0.4"/>
<polygon points="140.8,83.8 143.5,84.5 145.9,86.7 147.4,90.0 147.4,94.0 145.9,99.8 145.2,107.1 146.5,110.5 148.1,112.9 151.0,115.1 148.8,117.3 145.2,116.5 141.5,111.5 138.6,105.6 138.6,98.4 141.5,94.0 142.3,89.6 140.1,85.3" fill="#fff" stroke="#707080" stroke-width="0.4"/>
<polygon points="84.0,73.8 86.5,73.6 87.2,75.2 86.0,76.2 84.2,75.6" fill="#fff" stroke="#707080" stroke-width="0.4"/>
<polygon points="83.8,85.0 87.0,85.0 87.0,92.0 84.0,91.0" fill="#fff" stroke="#707080" stroke-width="0.4"/>
<polygon points="236.5,67.5 243.0,66.0 252.5,64.5 253.0,67.5 245.0,69.0 237.5,69.8" fill="#fff" stroke="#707080" stroke-width="0.4"/>
<polygon points="227.5,168.8 231.5,169.0 237.5,172.6 244.5,177.2 243.8,179.8 237.0,176.8 230.0,172.8" fill="#fff" stroke="#707080" stroke-width="0.4"/>
<polygon points="105.2,104.8 108.9,104.1 112.5,106.3 115.5,109.2 116.2,112.9 115.5,117.3 114.0,123.2 113.8,126.4 111.6,128.0 108.9,125.8 107.4,123.9 107.8,119.5 106.7,115.8 105.2,112.9 104.8,108.5" fill="#41d5f7" stroke="#585868" stroke-width="0.4"/>
<g clip-path="url(#cty2)"><g fill="#fff" stroke="#8080a0" stroke-width="0.25">
<ellipse cx="298" cy="104" rx="0.6" ry="0.9"/>
<ellipse cx="310" cy="113" rx="0.6" ry="0.8"/>
<ellipse cx="315" cy="108" rx="0.5" ry="0.9"/>
<ellipse cx="319" cy="114" rx="0.6" ry="0.7"/>
<ellipse cx="327" cy="117" rx="0.5" ry="0.8"/>
<ellipse cx="333" cy="113" rx="0.6" ry="0.7"/>
<ellipse cx="336" cy="118" rx="0.5" ry="0.6"/>
<ellipse cx="341" cy="106" rx="0.5" ry="0.7"/>
<ellipse cx="348" cy="104" rx="0.5" ry="0.7"/>
<ellipse cx="309" cy="120" rx="0.5" ry="0.6"/>
<ellipse cx="302" cy="124" rx="0.5" ry="0.6"/>
<ellipse cx="292" cy="116" rx="0.5" ry="0.6"/>
<ellipse cx="316" cy="123" rx="0.5" ry="0.6"/>
<ellipse cx="340" cy="100" rx="0.5" ry="0.6"/>
<ellipse cx="318.7" cy="100.9" rx="1.0" ry="1.5"/>
<ellipse cx="307.3" cy="106" rx="0.7" ry="2.4"/>
<ellipse cx="322.5" cy="110.5" rx="1.0" ry="2.0"/>
<ellipse cx="325.7" cy="111.7" rx="0.9" ry="2.0"/>
<ellipse cx="329.5" cy="110.5" rx="1.0" ry="1.5"/>
<ellipse cx="301.5" cy="113.6" rx="0.8" ry="1.0"/>
<ellipse cx="304.7" cy="111.7" rx="0.8" ry="1.0"/>
<ellipse cx="323.2" cy="116.8" rx="0.9" ry="0.9"/>
<ellipse cx="337.2" cy="107.9" rx="0.9" ry="1.0"/>
<ellipse cx="346.1" cy="88.8" rx="0.8" ry="0.8"/>
<ellipse cx="353.7" cy="97.7" rx="0.9" ry="1.1"/>
<ellipse cx="344.8" cy="111.7" rx="1.2" ry="0.8"/>
<ellipse cx="313" cy="118" rx="0.8" ry="0.8"/>
<ellipse cx="331" cy="104" rx="0.7" ry="0.9"/>
<ellipse cx="296" cy="120" rx="0.7" ry="0.8"/>
<ellipse cx="240.5" cy="100.2" rx="1.5" ry="0.9"/>
<ellipse cx="252.7" cy="99" rx="1.2" ry="0.9"/>
<ellipse cx="240.2" cy="112.2" rx="1.4" ry="0.9"/>
<ellipse cx="178.5" cy="120.5" rx="3.4" ry="3.4"/>
<ellipse cx="175.5" cy="159.8" rx="4.0" ry="3.2"/>
<ellipse cx="136" cy="163.5" rx="2.3" ry="3.3"/>
<ellipse cx="129" cy="184" rx="1.4" ry="1.2"/>
<ellipse cx="199" cy="213" rx="1.0" ry="1.5"/>
<ellipse cx="219" cy="215.5" rx="1.5" ry="1.0"/>
</g><g fill="#707088">
<circle cx="269.0" cy="94.7" r="0.4"/>
<circle cx="287.9" cy="100.4" r="0.4"/>
<circle cx="324.5" cy="49.2" r="0.4"/>
<circle cx="236.9" cy="122.6" r="0.4"/>
<circle cx="272.1" cy="65.3" r="0.4"/>
<circle cx="377.4" cy="87.7" r="0.4"/>
<circle cx="354.6" cy="88.3" r="0.4"/>
<circle cx="326.4" cy="57.3" r="0.4"/>
<circle cx="325.8" cy="125.5" r="0.4"/>
<circle cx="309.8" cy="113.4" r="0.4"/>
<circle cx="331.0" cy="49.1" r="0.4"/>
<circle cx="343.4" cy="99.2" r="0.4"/>
<circle cx="278.1" cy="45.9" r="0.4"/>
<circle cx="358.8" cy="87.9" r="0.4"/>
<circle cx="337.8" cy="126.5" r="0.4"/>
<circle cx="337.1" cy="130.5" r="0.4"/>
<circle cx="291.5" cy="119.1" r="0.4"/>
<circle cx="298.6" cy="131.9" r="0.4"/>
<circle cx="360.7" cy="52.3" r="0.4"/>
<circle cx="254.4" cy="63.6" r="0.4"/>
<circle cx="373.1" cy="84.4" r="0.4"/>
<circle cx="324.6" cy="71.6" r="0.4"/>
<circle cx="307.5" cy="79.7" r="0.4"/>
<circle cx="285.2" cy="98.6" r="0.4"/>
<circle cx="318.5" cy="128.9" r="0.4"/>
<circle cx="332.5" cy="131.2" r="0.4"/>
<circle cx="357.5" cy="137.1" r="0.4"/>
<circle cx="331.0" cy="58.5" r="0.4"/>
<circle cx="358.1" cy="134.6" r="0.4"/>
<circle cx="364.4" cy="97.1" r="0.4"/>
<circle cx="337.1" cy="63.1" r="0.4"/>
<circle cx="353.9" cy="97.5" r="0.4"/>
<circle cx="275.7" cy="49.0" r="0.4"/>
<circle cx="357.1" cy="137.0" r="0.4"/>
<circle cx="247.7" cy="119.1" r="0.4"/>
<circle cx="293.7" cy="57.3" r="0.4"/>
<circle cx="277.0" cy="116.0" r="0.4"/>
<circle cx="359.8" cy="47.2" r="0.4"/>
<circle cx="322.9" cy="47.3" r="0.4"/>
<circle cx="337.7" cy="74.4" r="0.4"/>
<circle cx="361.0" cy="136.2" r="0.4"/>
<circle cx="307.3" cy="137.9" r="0.4"/>
<circle cx="279.3" cy="50.3" r="0.4"/>
<circle cx="320.8" cy="46.0" r="0.4"/>
<circle cx="263.2" cy="81.8" r="0.4"/>
<circle cx="322.3" cy="57.8" r="0.4"/>
<circle cx="241.1" cy="125.4" r="0.4"/>
<circle cx="279.9" cy="134.1" r="0.4"/>
<circle cx="363.2" cy="78.9" r="0.4"/>
<circle cx="300.8" cy="92.4" r="0.4"/>
<circle cx="327.1" cy="99.6" r="0.4"/>
<circle cx="315.0" cy="101.9" r="0.4"/>
<circle cx="369.5" cy="91.2" r="0.4"/>
<circle cx="296.7" cy="111.4" r="0.4"/>
<circle cx="269.0" cy="71.6" r="0.4"/>
<circle cx="374.8" cy="92.5" r="0.4"/>
<circle cx="313.4" cy="44.1" r="0.4"/>
<circle cx="294.4" cy="98.1" r="0.4"/>
<circle cx="237.9" cy="101.5" r="0.4"/>
<circle cx="325.4" cy="48.7" r="0.4"/>
<circle cx="324.7" cy="87.3" r="0.4"/>
<circle cx="332.1" cy="76.5" r="0.4"/>
<circle cx="336.1" cy="113.1" r="0.4"/>
<circle cx="238.2" cy="48.8" r="0.4"/>
<circle cx="331.7" cy="134.5" r="0.4"/>
<circle cx="270.9" cy="86.3" r="0.4"/>
<circle cx="319.8" cy="73.4" r="0.4"/>
<circle cx="287.0" cy="72.7" r="0.4"/>
<circle cx="287.8" cy="99.6" r="0.4"/>
<circle cx="278.0" cy="78.8" r="0.4"/>
<circle cx="345.4" cy="45.6" r="0.4"/>
<circle cx="316.4" cy="112.8" r="0.4"/>
<circle cx="279.3" cy="64.1" r="0.4"/>
<circle cx="349.9" cy="65.7" r="0.4"/>
<circle cx="261.8" cy="84.3" r="0.4"/>
<circle cx="334.8" cy="52.7" r="0.4"/>
<circle cx="281.0" cy="74.7" r="0.4"/>
<circle cx="354.2" cy="84.7" r="0.4"/>
<circle cx="357.3" cy="59.1" r="0.4"/>
<circle cx="283.1" cy="104.8" r="0.4"/>
<circle cx="361.5" cy="85.9" r="0.4"/>
<circle cx="267.2" cy="54.5" r="0.4"/>
<circle cx="310.7" cy="61.1" r="0.4"/>
<circle cx="350.4" cy="122.7" r="0.4"/>
<circle cx="261.3" cy="69.5" r="0.4"/>
<circle cx="350.4" cy="104.0" r="0.4"/>
<circle cx="350.3" cy="75.8" r="0.4"/>
<circle cx="253.5" cy="70.7" r="0.4"/>
<circle cx="348.5" cy="68.8" r="0.4"/>
<circle cx="284.5" cy="82.6" r="0.4"/>
<circle cx="295.0" cy="81.9" r="0.4"/>
<circle cx="366.6" cy="57.8" r="0.4"/>
<circle cx="235.7" cy="132.6" r="0.4"/>
<circle cx="360.8" cy="136.8" r="0.4"/>
<circle cx="297.1" cy="133.3" r="0.4"/>
<circle cx="367.6" cy="64.1" r="0.4"/>
<circle cx="341.6" cy="122.5" r="0.4"/>
<circle cx="329.8" cy="92.3" r="0.4"/>
<circle cx="276.3" cy="75.4" r="0.4"/>
<circle cx="267.5" cy="49.5" r="0.4"/>
<circle cx="319.2" cy="70.3" r="0.4"/>
<circle cx="350.9" cy="47.3" r="0.4"/>
<circle cx="364.2" cy="108.9" r="0.4"/>
<circle cx="367.1" cy="128.2" r="0.4"/>
<circle cx="363.7" cy="97.8" r="0.4"/>
<circle cx="236.9" cy="113.8" r="0.4"/>
<circle cx="259.6" cy="71.5" r="0.4"/>
<circle cx="329.8" cy="92.9" r="0.4"/>
<circle cx="294.2" cy="132.2" r="0.4"/>
<circle cx="322.5" cy="75.4" r="0.4"/>
<circle cx="271.1" cy="124.9" r="0.4"/>
<circle cx="303.2" cy="117.3" r="0.4"/>
<circle cx="285.3" cy="61.7" r="0.4"/>
<circle cx="311.5" cy="120.6" r="0.4"/>
<circle cx="259.5" cy="118.2" r="0.4"/>
<circle cx="366.8" cy="119.6" r="0.4"/>
<circle cx="352.8" cy="43.7" r="0.4"/>
<circle cx="324.9" cy="124.9" r="0.4"/>
<circle cx="242.1" cy="68.8" r="0.4"/>
<circle cx="273.4" cy="93.1" r="0.4"/>
<circle cx="295.5" cy="87.9" r="0.4"/>
<circle cx="346.0" cy="43.2" r="0.4"/>
<circle cx="242.8" cy="55.1" r="0.4"/>
<circle cx="252.8" cy="49.5" r="0.4"/>
<circle cx="374.4" cy="124.2" r="0.4"/>
<circle cx="247.3" cy="90.7" r="0.4"/>
<circle cx="280.2" cy="72.9" r="0.4"/>
<circle cx="285.2" cy="104.5" r="0.4"/>
<circle cx="318.9" cy="77.3" r="0.4"/>
<circle cx="262.3" cy="74.2" r="0.4"/>
<circle cx="252.7" cy="95.8" r="0.4"/>
<circle cx="337.4" cy="79.1" r="0.4"/>
<circle cx="246.4" cy="60.0" r="0.4"/>
<circle cx="288.4" cy="100.4" r="0.4"/>
<circle cx="346.9" cy="79.1" r="0.4"/>
<circle cx="349.6" cy="102.2" r="0.4"/>
<circle cx="296.7" cy="78.4" r="0.4"/>
<circle cx="305.9" cy="109.8" r="0.4"/>
<circle cx="295.1" cy="108.9" r="0.4"/>
<circle cx="300.9" cy="66.3" r="0.4"/>
<circle cx="311.6" cy="109.0" r="0.4"/>
<circle cx="245.2" cy="83.4" r="0.4"/>
<circle cx="295.9" cy="126.6" r="0.4"/>
<circle cx="368.9" cy="78.6" r="0.4"/>
<circle cx="363.4" cy="118.1" r="0.4"/>
<circle cx="272.5" cy="87.1" r="0.4"/>
<circle cx="252.6" cy="120.3" r="0.4"/>
<circle cx="329.7" cy="127.3" r="0.4"/>
<circle cx="348.3" cy="106.4" r="0.4"/>
<circle cx="339.9" cy="96.6" r="0.4"/>
<circle cx="249.7" cy="98.8" r="0.4"/>
<circle cx="235.7" cy="56.6" r="0.4"/>
<circle cx="345.7" cy="47.2" r="0.4"/>
<circle cx="248.1" cy="52.4" r="0.4"/>
<circle cx="360.9" cy="60.0" r="0.4"/>
<circle cx="238.4" cy="122.9" r="0.4"/>
<circle cx="252.3" cy="123.2" r="0.4"/>
<circle cx="331.3" cy="122.4" r="0.4"/>
<circle cx="371.2" cy="98.0" r="0.4"/>
<circle cx="349.2" cy="46.4" r="0.4"/>
<circle cx="344.7" cy="91.6" r="0.4"/>
<circle cx="337.3" cy="53.1" r="0.4"/>
<circle cx="342.1" cy="131.8" r="0.4"/>
<circle cx="243.7" cy="73.8" r="0.4"/>
<circle cx="315.6" cy="121.7" r="0.4"/>
<circle cx="269.6" cy="60.1" r="0.4"/>
<circle cx="270.7" cy="101.5" r="0.4"/>
<circle cx="342.8" cy="80.4" r="0.4"/>
<circle cx="287.5" cy="80.7" r="0.4"/>
<circle cx="285.1" cy="82.7" r="0.4"/>
<circle cx="246.9" cy="90.5" r="0.4"/>
<circle cx="374.1" cy="82.2" r="0.4"/>
<circle cx="341.9" cy="58.3" r="0.4"/>
<circle cx="333.8" cy="114.8" r="0.4"/>
<circle cx="331.4" cy="92.1" r="0.4"/>
<circle cx="304.2" cy="104.1" r="0.4"/>
<circle cx="363.3" cy="57.2" r="0.4"/>
<circle cx="248.7" cy="114.1" r="0.4"/>
<circle cx="366.1" cy="92.1" r="0.4"/>
<circle cx="298.4" cy="111.3" r="0.4"/>
<circle cx="261.6" cy="68.4" r="0.4"/>
<circle cx="263.5" cy="98.6" r="0.4"/>
<circle cx="280.0" cy="65.1" r="0.4"/>
<circle cx="333.8" cy="133.6" r="0.4"/>
<circle cx="277.3" cy="110.0" r="0.4"/>
<circle cx="294.1" cy="124.1" r="0.4"/>
<circle cx="318.6" cy="68.4" r="0.4"/>
<circle cx="266.1" cy="45.2" r="0.4"/>
<circle cx="303.6" cy="79.4" r="0.4"/>
<circle cx="259.6" cy="77.2" r="0.4"/>
<circle cx="281.1" cy="116.5" r="0.4"/>
<circle cx="255.5" cy="137.2" r="0.4"/>
<circle cx="303.6" cy="99.9" r="0.4"/>
<circle cx="301.9" cy="122.3" r="0.4"/>
<circle cx="352.5" cy="95.9" r="0.4"/>
<circle cx="303.8" cy="111.5" r="0.4"/>
<circle cx="357.5" cy="81.0" r="0.4"/>
<circle cx="339.9" cy="134.2" r="0.4"/>
<circle cx="301.8" cy="64.8" r="0.4"/>
<circle cx="268.6" cy="111.2" r="0.4"/>
<circle cx="331.6" cy="134.1" r="0.4"/>
<circle cx="357.1" cy="66.0" r="0.4"/>
<circle cx="262.1" cy="67.6" r="0.4"/>
<circle cx="261.8" cy="109.9" r="0.4"/>
<circle cx="357.8" cy="128.5" r="0.4"/>
<circle cx="271.5" cy="125.2" r="0.4"/>
<circle cx="279.8" cy="83.2" r="0.4"/>
<circle cx="339.2" cy="51.2" r="0.4"/>
<circle cx="248.2" cy="122.2" r="0.4"/>
<circle cx="276.7" cy="76.9" r="0.4"/>
<circle cx="318.0" cy="107.2" r="0.4"/>
<circle cx="236.0" cy="74.8" r="0.4"/>
<circle cx="297.4" cy="89.2" r="0.4"/>
<circle cx="265.0" cy="98.6" r="0.4"/>
<circle cx="371.6" cy="80.1" r="0.4"/>
<circle cx="312.8" cy="54.3" r="0.4"/>
<circle cx="274.3" cy="106.2" r="0.4"/>
<circle cx="251.1" cy="127.3" r="0.4"/>
<circle cx="365.0" cy="52.2" r="0.4"/>
<circle cx="369.6" cy="78.6" r="0.4"/>
<circle cx="345.5" cy="114.9" r="0.4"/>
<circle cx="277.3" cy="107.2" r="0.4"/>
<circle cx="328.5" cy="119.6" r="0.4"/>
<circle cx="273.0" cy="114.6" r="0.4"/>
<circle cx="372.5" cy="106.9" r="0.4"/>
<circle cx="311.7" cy="53.8" r="0.4"/>
<circle cx="305.6" cy="76.5" r="0.4"/>
<circle cx="337.7" cy="107.5" r="0.4"/>
<circle cx="316.0" cy="60.3" r="0.4"/>
<circle cx="327.3" cy="102.9" r="0.4"/>
<circle cx="260.6" cy="127.5" r="0.4"/>
<circle cx="328.7" cy="54.7" r="0.4"/>
<circle cx="368.3" cy="56.4" r="0.4"/>
<circle cx="282.4" cy="111.4" r="0.4"/>
<circle cx="320.4" cy="95.7" r="0.4"/>
<circle cx="327.6" cy="86.5" r="0.4"/>
<circle cx="279.7" cy="59.8" r="0.4"/>
<circle cx="244.8" cy="111.0" r="0.4"/>
<circle cx="342.9" cy="94.6" r="0.4"/>
<circle cx="340.8" cy="77.1" r="0.4"/>
<circle cx="273.0" cy="79.4" r="0.4"/>
<circle cx="359.8" cy="47.0" r="0.4"/>
<circle cx="307.2" cy="66.5" r="0.4"/>
<circle cx="345.0" cy="76.6" r="0.4"/>
<circle cx="282.6" cy="81.3" r="0.4"/>
<circle cx="312.4" cy="116.3" r="0.4"/>
<circle cx="285.5" cy="123.5" r="0.4"/>
<circle cx="251.0" cy="68.7" r="0.4"/>
<circle cx="249.2" cy="53.7" r="0.4"/>
<circle cx="346.4" cy="112.1" r="0.4"/>
<circle cx="261.4" cy="61.0" r="0.4"/>
<circle cx="294.6" cy="113.6" r="0.4"/>
<circle cx="351.7" cy="114.1" r="0.4"/>
<circle cx="319.6" cy="56.9" r="0.4"/>
<circle cx="292.0" cy="61.4" r="0.4"/>
<circle cx="310.4" cy="97.0" r="0.4"/>
<circle cx="263.9" cy="66.8" r="0.4"/>
<circle cx="346.8" cy="45.9" r="0.4"/>
<circle cx="349.9" cy="127.7" r="0.4"/>
<circle cx="370.8" cy="79.4" r="0.4"/>
<circle cx="328.7" cy="112.5" r="0.45"/>
<circle cx="334.4" cy="124.3" r="0.45"/>
<circle cx="338.1" cy="104.0" r="0.45"/>
<circle cx="350.2" cy="109.5" r="0.45"/>
<circle cx="332.1" cy="116.8" r="0.45"/>
<circle cx="290.2" cy="118.1" r="0.45"/>
<circle cx="336.3" cy="109.8" r="0.45"/>
<circle cx="326.7" cy="108.8" r="0.45"/>
<circle cx="303.5" cy="110.9" r="0.45"/>
<circle cx="292.6" cy="110.0" r="0.45"/>
<circle cx="335.2" cy="108.3" r="0.45"/>
<circle cx="329.6" cy="123.8" r="0.45"/>
<circle cx="352.4" cy="99.1" r="0.45"/>
<circle cx="345.5" cy="113.7" r="0.45"/>
<circle cx="293.5" cy="105.8" r="0.45"/>
<circle cx="306.3" cy="97.3" r="0.45"/>
<circle cx="327.7" cy="122.9" r="0.45"/>
<circle cx="312.6" cy="121.1" r="0.45"/>
<circle cx="338.6" cy="99.0" r="0.45"/>
<circle cx="350.1" cy="113.0" r="0.45"/>
<circle cx="354.9" cy="116.5" r="0.45"/>
<circle cx="341.8" cy="105.3" r="0.45"/>
<circle cx="346.5" cy="123.0" r="0.45"/>
<circle cx="350.3" cy="108.1" r="0.45"/>
<circle cx="343.0" cy="109.6" r="0.45"/>
<circle cx="297.6" cy="96.3" r="0.45"/>
<circle cx="295.5" cy="101.0" r="0.45"/>
<circle cx="301.3" cy="109.9" r="0.45"/>
<circle cx="338.9" cy="111.1" r="0.45"/>
<circle cx="319.5" cy="114.5" r="0.45"/>
<circle cx="311.3" cy="108.9" r="0.45"/>
<circle cx="343.0" cy="107.0" r="0.45"/>
<circle cx="302.6" cy="122.0" r="0.45"/>
<circle cx="340.4" cy="106.0" r="0.45"/>
<circle cx="316.0" cy="110.9" r="0.45"/>
<circle cx="331.8" cy="101.7" r="0.45"/>
<circle cx="290.2" cy="101.3" r="0.45"/>
<circle cx="344.8" cy="99.3" r="0.45"/>
<circle cx="322.2" cy="100.9" r="0.45"/>
<circle cx="304.7" cy="100.1" r="0.45"/>
<circle cx="318.3" cy="100.0" r="0.45"/>
<circle cx="291.9" cy="98.3" r="0.45"/>
<circle cx="301.8" cy="109.7" r="0.45"/>
<circle cx="294.2" cy="95.7" r="0.45"/>
<circle cx="321.4" cy="107.2" r="0.45"/>
<circle cx="339.2" cy="96.5" r="0.45"/>
<circle cx="318.2" cy="106.9" r="0.45"/>
<circle cx="291.9" cy="124.0" r="0.45"/>
<circle cx="305.3" cy="97.8" r="0.45"/>
<circle cx="323.2" cy="99.9" r="0.45"/>
<circle cx="333.6" cy="105.4" r="0.45"/>
<circle cx="298.7" cy="96.6" r="0.45"/>
<circle cx="340.9" cy="103.3" r="0.45"/>
<circle cx="345.1" cy="109.0" r="0.45"/>
<circle cx="355.3" cy="104.0" r="0.45"/>
<circle cx="307.5" cy="103.0" r="0.45"/>
<circle cx="347.0" cy="113.9" r="0.45"/>
<circle cx="314.1" cy="97.8" r="0.45"/>
<circle cx="337.8" cy="124.1" r="0.45"/>
<circle cx="331.5" cy="95.1" r="0.45"/>
</g><g fill="#1a1a50">
<circle cx="144.8" cy="209.5" r="0.55"/>
<circle cx="167.3" cy="206.8" r="0.55"/>
<circle cx="148.6" cy="237.7" r="0.55"/>
<circle cx="284.0" cy="215.0" r="0.55"/>
<circle cx="295.8" cy="228.8" r="0.55"/>
<circle cx="268.6" cy="250.9" r="0.55"/>
<circle cx="290.4" cy="206.7" r="0.55"/>
<circle cx="188.8" cy="235.3" r="0.55"/>
<circle cx="291.4" cy="209.4" r="0.55"/>
<circle cx="186.9" cy="247.5" r="0.55"/>
<circle cx="158.3" cy="224.5" r="0.55"/>
<circle cx="193.5" cy="239.0" r="0.55"/>
<circle cx="288.6" cy="213.7" r="0.55"/>
<circle cx="258.4" cy="241.7" r="0.55"/>
<circle cx="273.7" cy="232.7" r="0.55"/>
<circle cx="287.8" cy="223.1" r="0.55"/>
<circle cx="206.4" cy="216.5" r="0.55"/>
<circle cx="264.7" cy="229.0" r="0.55"/>
<circle cx="183.1" cy="213.5" r="0.55"/>
<circle cx="255.3" cy="235.3" r="0.55"/>
<circle cx="253.7" cy="224.3" r="0.55"/>
<circle cx="217.9" cy="212.7" r="0.55"/>
<circle cx="253.7" cy="206.1" r="0.55"/>
<circle cx="214.7" cy="242.9" r="0.55"/>
<circle cx="248.4" cy="209.9" r="0.55"/>
<circle cx="177.9" cy="247.2" r="0.55"/>
<circle cx="242.8" cy="248.9" r="0.55"/>
<circle cx="279.6" cy="227.5" r="0.55"/>
<circle cx="283.5" cy="241.6" r="0.55"/>
<circle cx="193.4" cy="223.5" r="0.55"/>
<circle cx="151.5" cy="225.0" r="0.55"/>
<circle cx="292.9" cy="210.2" r="0.55"/>
<circle cx="231.0" cy="210.5" r="0.55"/>
<circle cx="152.9" cy="237.5" r="0.55"/>
<circle cx="178.5" cy="207.4" r="0.55"/>
<circle cx="164.4" cy="237.2" r="0.55"/>
<circle cx="233.7" cy="205.6" r="0.55"/>
<circle cx="176.8" cy="253.4" r="0.55"/>
<circle cx="175.2" cy="233.1" r="0.55"/>
<circle cx="207.1" cy="244.1" r="0.55"/>
<circle cx="236.7" cy="244.4" r="0.55"/>
<circle cx="225.6" cy="214.4" r="0.55"/>
<circle cx="168.4" cy="209.0" r="0.55"/>
<circle cx="272.1" cy="210.6" r="0.55"/>
<circle cx="143.8" cy="253.3" r="0.55"/>
<circle cx="178.4" cy="92.1" r="0.43"/>
<circle cx="194.8" cy="55.3" r="0.73"/>
<circle cx="204.2" cy="78.3" r="0.7"/>
<circle cx="220.0" cy="62.0" r="0.64"/>
<circle cx="193.6" cy="49.1" r="0.73"/>
<circle cx="202.9" cy="87.8" r="0.48"/>
<circle cx="199.4" cy="68.5" r="0.69"/>
<circle cx="170.8" cy="62.0" r="0.59"/>
<circle cx="211.6" cy="66.3" r="0.66"/>
<circle cx="203.6" cy="54.8" r="0.54"/>
<circle cx="227.7" cy="61.4" r="0.57"/>
<circle cx="171.2" cy="55.0" r="0.47"/>
<circle cx="204.0" cy="94.2" r="0.61"/>
<circle cx="192.0" cy="95.1" r="0.76"/>
<circle cx="224.9" cy="69.6" r="0.71"/>
<circle cx="191.2" cy="97.9" r="0.77"/>
<circle cx="184.1" cy="94.4" r="0.47"/>
<circle cx="184.2" cy="71.6" r="0.66"/>
<circle cx="183.1" cy="66.8" r="0.54"/>
<circle cx="183.8" cy="48.7" r="0.52"/>
<circle cx="191.5" cy="47.3" r="0.46"/>
<circle cx="220.3" cy="63.5" r="0.46"/>
<circle cx="185.3" cy="68.5" r="0.61"/>
<circle cx="199.6" cy="62.8" r="0.74"/>
<circle cx="183.7" cy="68.5" r="0.75"/>
<circle cx="216.0" cy="59.4" r="0.5"/>
<circle cx="216.0" cy="43.6" r="0.45"/>
<circle cx="198.9" cy="72.5" r="0.47"/>
<circle cx="169.1" cy="54.2" r="0.71"/>
<circle cx="194.9" cy="96.9" r="0.71"/>
<circle cx="226.7" cy="44.9" r="0.47"/>
<circle cx="187.0" cy="45.8" r="0.62"/>
<circle cx="171.8" cy="60.1" r="0.5"/>
<circle cx="215.7" cy="66.0" r="0.5"/>
<circle cx="204.9" cy="80.1" r="0.77"/>
<circle cx="216.1" cy="56.6" r="0.45"/>
<circle cx="197.5" cy="88.7" r="0.62"/>
<circle cx="183.3" cy="52.3" r="0.41"/>
<circle cx="222.2" cy="68.7" r="0.67"/>
<circle cx="203.4" cy="65.8" r="0.61"/>
<circle cx="176.6" cy="53.1" r="0.67"/>
<circle cx="191.3" cy="62.4" r="0.58"/>
<circle cx="215.8" cy="67.9" r="0.78"/>
<circle cx="175.6" cy="60.3" r="0.61"/>
<circle cx="191.5" cy="89.8" r="0.73"/>
<circle cx="200.1" cy="69.8" r="0.51"/>
<circle cx="189.0" cy="71.3" r="0.76"/>
<circle cx="177.2" cy="64.1" r="0.73"/>
<circle cx="185.6" cy="57.9" r="0.78"/>
<circle cx="224.5" cy="60.5" r="0.56"/>
<circle cx="183.5" cy="50.2" r="0.5"/>
<circle cx="226.8" cy="47.4" r="0.49"/>
<circle cx="178.4" cy="47.4" r="0.61"/>
<circle cx="166.3" cy="58.5" r="0.78"/>
<circle cx="170.3" cy="57.7" r="0.59"/>
<circle cx="182.6" cy="73.0" r="0.42"/>
<circle cx="180.6" cy="95.7" r="0.46"/>
<circle cx="222.1" cy="52.8" r="0.8"/>
<circle cx="174.8" cy="46.0" r="0.7"/>
<circle cx="176.9" cy="53.4" r="0.73"/>
<circle cx="220.2" cy="45.7" r="0.78"/>
<circle cx="199.2" cy="64.0" r="0.44"/>
<circle cx="190.2" cy="97.3" r="0.51"/>
<circle cx="174.1" cy="51.0" r="0.45"/>
<circle cx="187.8" cy="93.3" r="0.43"/>
<circle cx="181.2" cy="62.5" r="0.78"/>
<circle cx="196.1" cy="81.7" r="0.53"/>
<circle cx="201.3" cy="68.5" r="0.62"/>
<circle cx="193.4" cy="72.4" r="0.73"/>
<circle cx="178.4" cy="75.7" r="0.77"/>
<circle cx="218.6" cy="52.9" r="0.79"/>
<circle cx="218.1" cy="52.2" r="0.51"/>
<circle cx="178.5" cy="45.9" r="0.79"/>
<circle cx="191.4" cy="91.0" r="0.45"/>
<circle cx="213.5" cy="48.1" r="0.62"/>
<circle cx="193.4" cy="51.0" r="0.64"/>
<circle cx="186.0" cy="70.9" r="0.55"/>
<circle cx="185.7" cy="62.7" r="0.64"/>
<circle cx="183.8" cy="96.7" r="0.51"/>
<circle cx="173.6" cy="70.5" r="0.69"/>
<circle cx="187.1" cy="78.5" r="0.51"/>
<circle cx="225.9" cy="67.9" r="0.59"/>
<circle cx="198.9" cy="91.1" r="0.79"/>
<circle cx="198.8" cy="67.3" r="0.65"/>
<circle cx="170.3" cy="66.4" r="0.74"/>
<circle cx="214.2" cy="46.3" r="0.74"/>
<circle cx="189.8" cy="97.0" r="0.55"/>
<circle cx="179.3" cy="73.2" r="0.75"/>
<circle cx="192.7" cy="90.7" r="0.68"/>
<circle cx="188.4" cy="59.5" r="0.6"/>
<circle cx="190.7" cy="63.5" r="0.66"/>
<circle cx="175.1" cy="55.1" r="0.55"/>
<circle cx="204.1" cy="50.7" r="0.43"/>
<circle cx="185.9" cy="58.6" r="0.41"/>
<circle cx="199.4" cy="93.7" r="0.61"/>
<circle cx="193.4" cy="80.5" r="0.45"/>
<circle cx="220.6" cy="63.8" r="0.59"/>
<circle cx="221.2" cy="58.8" r="0.48"/>
<circle cx="171.3" cy="44.5" r="0.54"/>
<circle cx="177.4" cy="58.1" r="0.56"/>
<circle cx="197.7" cy="66.8" r="0.65"/>
<circle cx="206.9" cy="67.0" r="0.44"/>
<circle cx="171.2" cy="67.3" r="0.7"/>
<circle cx="227.5" cy="46.6" r="0.4"/>
<circle cx="195.8" cy="66.2" r="0.76"/>
<circle cx="217.2" cy="61.2" r="0.57"/>
<circle cx="202.1" cy="91.6" r="0.48"/>
<circle cx="190.3" cy="47.9" r="0.66"/>
<circle cx="198.5" cy="74.6" r="0.43"/>
<circle cx="180.4" cy="68.8" r="0.74"/>
<circle cx="199.4" cy="58.7" r="0.79"/>
<circle cx="178.5" cy="59.4" r="0.76"/>
<circle cx="174.2" cy="72.2" r="0.65"/>
<circle cx="188.0" cy="85.3" r="0.76"/>
<circle cx="178.6" cy="46.3" r="0.57"/>
<circle cx="185.3" cy="53.7" r="0.75"/>
<circle cx="179.4" cy="88.3" r="0.78"/>
<circle cx="190.6" cy="54.7" r="0.47"/>
<circle cx="189.8" cy="89.8" r="0.73"/>
<circle cx="169.5" cy="65.1" r="0.56"/>
<circle cx="177.0" cy="56.8" r="0.51"/>
<circle cx="209.0" cy="61.7" r="0.44"/>
<circle cx="179.7" cy="67.3" r="0.63"/>
<circle cx="181.2" cy="81.5" r="0.49"/>
<circle cx="176.9" cy="84.3" r="0.56"/>
<circle cx="199.5" cy="75.9" r="0.65"/>
<circle cx="277.9" cy="221.5" r="0.55"/>
<circle cx="261.3" cy="194.3" r="0.67"/>
<circle cx="269.9" cy="192.2" r="0.65"/>
<circle cx="294.6" cy="204.2" r="0.45"/>
<circle cx="272.4" cy="197.6" r="0.62"/>
<circle cx="257.2" cy="221.1" r="0.54"/>
<circle cx="258.1" cy="221.7" r="0.53"/>
<circle cx="254.4" cy="208.8" r="0.65"/>
<circle cx="231.2" cy="186.3" r="0.63"/>
<circle cx="259.2" cy="195.9" r="0.67"/>
<circle cx="285.8" cy="206.9" r="0.7"/>
<circle cx="281.9" cy="216.4" r="0.49"/>
<circle cx="215.9" cy="213.2" r="0.62"/>
<circle cx="243.1" cy="204.0" r="0.57"/>
<circle cx="235.0" cy="214.1" r="0.57"/>
<circle cx="245.8" cy="187.0" r="0.57"/>
<circle cx="240.6" cy="215.3" r="0.45"/>
<circle cx="246.6" cy="191.0" r="0.52"/>
<circle cx="219.4" cy="204.2" r="0.46"/>
<circle cx="255.4" cy="189.7" r="0.43"/>
<circle cx="258.0" cy="224.5" r="0.66"/>
<circle cx="256.2" cy="200.3" r="0.42"/>
<circle cx="237.1" cy="196.5" r="0.68"/>
<circle cx="224.4" cy="225.6" r="0.54"/>
<circle cx="249.7" cy="194.1" r="0.69"/>
<circle cx="229.9" cy="208.3" r="0.55"/>
<circle cx="231.0" cy="192.3" r="0.7"/>
<circle cx="278.3" cy="215.7" r="0.67"/>
<circle cx="222.9" cy="214.4" r="0.63"/>
<circle cx="233.0" cy="203.0" r="0.69"/>
<circle cx="241.1" cy="217.1" r="0.45"/>
<circle cx="268.4" cy="194.4" r="0.55"/>
<circle cx="244.8" cy="222.0" r="0.62"/>
<circle cx="255.3" cy="213.6" r="0.53"/>
<circle cx="258.5" cy="208.9" r="0.52"/>
<circle cx="162.3" cy="42.2" r="0.47"/>
<circle cx="162.6" cy="46.6" r="0.7"/>
<circle cx="162.3" cy="44.2" r="0.59"/>
<circle cx="161.8" cy="50.3" r="0.46"/>
<circle cx="160.8" cy="52.3" r="0.66"/>
<circle cx="162.2" cy="48.0" r="0.61"/>
<circle cx="159.6" cy="53.8" r="0.71"/>
<circle cx="159.2" cy="52.3" r="0.67"/>
<circle cx="160.6" cy="56.0" r="0.61"/>
<circle cx="162.8" cy="58.7" r="0.5"/>
<circle cx="162.8" cy="61.3" r="0.58"/>
<circle cx="163.7" cy="59.3" r="0.68"/>
<circle cx="166.9" cy="65.7" r="0.63"/>
<circle cx="165.3" cy="65.5" r="0.68"/>
<circle cx="165.4" cy="65.5" r="0.43"/>
<circle cx="170.9" cy="69.6" r="0.61"/>
<circle cx="169.4" cy="68.2" r="0.52"/>
<circle cx="170.2" cy="68.5" r="0.67"/>
<circle cx="177.7" cy="73.8" r="0.58"/>
<circle cx="176.1" cy="71.7" r="0.68"/>
<circle cx="175.9" cy="74.0" r="0.6"/>
<circle cx="180.8" cy="76.2" r="0.75"/>
<circle cx="179.3" cy="76.3" r="0.44"/>
<circle cx="180.5" cy="75.9" r="0.72"/>
<circle cx="180.5" cy="81.7" r="0.4"/>
<circle cx="182.4" cy="84.8" r="0.42"/>
<circle cx="181.1" cy="83.6" r="0.51"/>
<circle cx="180.2" cy="88.5" r="0.43"/>
<circle cx="179.4" cy="94.2" r="0.47"/>
<circle cx="181.8" cy="86.7" r="0.67"/>
<circle cx="180.5" cy="95.7" r="0.64"/>
<circle cx="181.3" cy="95.5" r="0.42"/>
<circle cx="181.0" cy="97.6" r="0.65"/>
<circle cx="177.6" cy="64.0" r="0.61"/>
<circle cx="175.8" cy="65.4" r="0.49"/>
<circle cx="177.0" cy="63.9" r="0.63"/>
<circle cx="185.6" cy="64.0" r="0.47"/>
<circle cx="180.5" cy="63.1" r="0.6"/>
<circle cx="182.9" cy="63.2" r="0.43"/>
<circle cx="186.9" cy="63.3" r="0.71"/>
<circle cx="187.7" cy="63.2" r="0.41"/>
<circle cx="189.1" cy="62.8" r="0.65"/>
<circle cx="189.8" cy="62.3" r="0.47"/>
<circle cx="192.2" cy="63.7" r="0.44"/>
<circle cx="192.5" cy="63.0" r="0.58"/>
<circle cx="194.8" cy="64.2" r="0.63"/>
<circle cx="197.7" cy="64.3" r="0.71"/>
<circle cx="197.6" cy="66.3" r="0.45"/>
<circle cx="203.5" cy="64.7" r="0.61"/>
<circle cx="203.0" cy="66.5" r="0.72"/>
<circle cx="199.7" cy="64.9" r="0.69"/>
<circle cx="205.8" cy="64.2" r="0.72"/>
<circle cx="204.1" cy="65.9" r="0.51"/>
<circle cx="207.2" cy="64.0" r="0.43"/>
<circle cx="214.2" cy="59.5" r="0.73"/>
<circle cx="211.9" cy="61.6" r="0.51"/>
<circle cx="211.0" cy="62.2" r="0.54"/>
<circle cx="218.0" cy="61.0" r="0.73"/>
<circle cx="220.6" cy="59.3" r="0.49"/>
<circle cx="215.9" cy="61.1" r="0.72"/>
<circle cx="201.3" cy="70.1" r="0.55"/>
<circle cx="204.6" cy="66.1" r="0.5"/>
<circle cx="200.3" cy="72.2" r="0.51"/>
<circle cx="198.0" cy="76.3" r="0.54"/>
<circle cx="200.3" cy="73.7" r="0.49"/>
<circle cx="200.7" cy="71.1" r="0.71"/>
<circle cx="195.7" cy="78.4" r="0.44"/>
<circle cx="196.7" cy="78.4" r="0.52"/>
<circle cx="196.7" cy="79.2" r="0.55"/>
<circle cx="190.3" cy="84.1" r="0.46"/>
<circle cx="189.9" cy="85.0" r="0.58"/>
<circle cx="189.7" cy="85.0" r="0.53"/>
<circle cx="189.3" cy="86.0" r="0.57"/>
<circle cx="186.6" cy="87.8" r="0.47"/>
<circle cx="182.7" cy="89.7" r="0.46"/>
<circle cx="180.5" cy="89.1" r="0.59"/>
<circle cx="181.8" cy="91.1" r="0.74"/>
<circle cx="183.1" cy="88.0" r="0.66"/>
</g></g>
<polygon points="89.8,147.8 95.3,147.8 95.3,159.3 89.8,159.3" fill="#7a7070" stroke="#555" stroke-width="0.4"/>
<polygon points="72.2,41.0 370.0,40.8 373.6,45.9 376.4,50.5 379.1,53.2 377.3,58.6 380.9,64.1 379.1,68.6 371.8,71.4 368.2,76.8 367.3,82.3 368.2,89.5 370.0,96.8 370.9,102.3 366.4,103.6 359.1,105.5 355.5,110.0 350.0,112.7 344.5,114.5 342.7,120.0 339.1,122.7 331.8,121.8 326.4,124.5 322.7,129.1 317.3,132.7 310.0,135.5 304.5,140.0 300.9,140.9 295.5,139.1 290.0,136.4 285.5,131.0 280.0,125.0 276.0,120.5 273.6,120.9 270.0,123.6 262.7,127.3 257.3,132.7 250.0,136.4 244.5,141.8 239.1,146.4 233.6,147.3 232.7,149.1 237.3,151.8 243.6,154.0 249.0,159.5 257.3,163.6 266.4,170.0 273.6,172.7 284.5,173.6 293.6,173.6 297.3,175.5 293.6,178.2 290.0,181.8 290.9,187.3 294.5,191.8 295.5,195.5 293.6,201.8 297.3,208.2 302.7,209.1 311.8,209.1 316.4,212.7 319.1,220.0 315.5,226.0 312.7,230.5 317.3,233.2 322.7,235.9 324.5,240.5 323.6,246.8 324.5,252.3 327.3,257.7 324.5,262.3 319.1,261.4 311.8,262.3 304.5,266.8 302.7,271.4 304.5,275.9 309.1,278.6 302.7,277.7 299.1,278.6 293.6,279.5 286.4,273.6 277.3,269.5 268.2,267.7 260.9,266.8 255.5,260.5 250.0,255.9 242.7,255.0 235.5,256.8 228.2,256.8 219.1,251.4 213.6,249.5 208.2,253.2 200.9,259.5 195.5,256.8 188.2,255.9 182.7,257.7 178.2,260.5 173.6,255.0 166.4,251.4 159.1,248.6 154.5,249.5 150.9,246.8 145.5,241.4 140.0,235.0 136.4,229.5 132.7,224.1 129.1,220.5 118.0,220.3 96.2,220.3 90.7,219.2 86.4,219.7 80.9,213.2 74.4,206.6 68.4,199.5 75.1,194.9 81.6,192.7 87.6,190.0 88.7,185.1 88.2,176.4 87.6,170.9 84.9,166.5 82.2,160.0 78.4,154.9 75.1,152.7 77.3,150.5 79.5,145.1 78.4,138.5 72.0,132.2 71.4,124.6 70.8,117.6 68.5,113.5 66.1,110.5 70.0,107.0 73.7,104.1 76.6,107.6 79.6,107.6 84.3,104.7 85.5,100.5 83.4,96.8 78.3,93.9 75.4,91.7 71.7,88.1 67.4,83.7 63.7,80.1 65.3,78.2 68.0,74.9 69.6,70.5 71.0,67.3 75.5,64.0 76.4,61.3 76.5,56.0 76.2,49.8 74.0,45.0 72.6,42.0" fill="none" stroke="#333" stroke-width="0.6" stroke-opacity="0.8"/></g>
<rect x="46.6" y="396.59999999999997" width="350.70" height="263.80" fill="none" stroke="#333" stroke-width="1.07"/>
<g stroke="#333" stroke-width="1.07">
<line x1="70.90" y1="660.40" x2="70.90" y2="664.20"/>
<line x1="117.53" y1="660.40" x2="117.53" y2="664.20"/>
<line x1="164.16" y1="660.40" x2="164.16" y2="664.20"/>
<line x1="210.79" y1="660.40" x2="210.79" y2="664.20"/>
<line x1="257.42" y1="660.40" x2="257.42" y2="664.20"/>
<line x1="304.05" y1="660.40" x2="304.05" y2="664.20"/>
<line x1="350.68" y1="660.40" x2="350.68" y2="664.20"/>
<line x1="397.31" y1="660.40" x2="397.31" y2="664.20"/>
<line x1="42.80" y1="401.50" x2="46.60" y2="401.50"/>
<line x1="42.80" y1="436.04" x2="46.60" y2="436.04"/>
<line x1="42.80" y1="470.58" x2="46.60" y2="470.58"/>
<line x1="42.80" y1="505.12" x2="46.60" y2="505.12"/>
<line x1="42.80" y1="539.66" x2="46.60" y2="539.66"/>
<line x1="42.80" y1="574.20" x2="46.60" y2="574.20"/>
<line x1="42.80" y1="608.74" x2="46.60" y2="608.74"/>
<line x1="42.80" y1="643.28" x2="46.60" y2="643.28"/>
</g>
<text transform="translate(70.90,675.40) scale(1.04,1)" class="ax" text-anchor="middle">122.4°W</text>
<text transform="translate(117.53,675.40) scale(1.04,1)" class="ax" text-anchor="middle">122.2°W</text>
<text transform="translate(164.16,675.40) scale(1.04,1)" class="ax" text-anchor="middle">122.0°W</text>
<text transform="translate(210.79,675.40) scale(1.04,1)" class="ax" text-anchor="middle">121.8°W</text>
<text transform="translate(257.42,675.40) scale(1.04,1)" class="ax" text-anchor="middle">121.6°W</text>
<text transform="translate(304.05,675.40) scale(1.04,1)" class="ax" text-anchor="middle">121.4°W</text>
<text transform="translate(350.68,675.40) scale(1.04,1)" class="ax" text-anchor="middle">121.2°W</text>
<text transform="translate(397.31,675.40) scale(1.04,1)" class="ax" text-anchor="middle">121.0°W</text>
<text transform="translate(40.20,405.50) scale(1.05,1)" class="ax" text-anchor="end">47.8°N</text>
<text transform="translate(40.20,440.04) scale(1.05,1)" class="ax" text-anchor="end">47.7°N</text>
<text transform="translate(40.20,474.58) scale(1.05,1)" class="ax" text-anchor="end">47.6°N</text>
<text transform="translate(40.20,509.12) scale(1.05,1)" class="ax" text-anchor="end">47.5°N</text>
<text transform="translate(40.20,543.66) scale(1.05,1)" class="ax" text-anchor="end">47.4°N</text>
<text transform="translate(40.20,578.20) scale(1.05,1)" class="ax" text-anchor="end">47.3°N</text>
<text transform="translate(40.20,612.74) scale(1.05,1)" class="ax" text-anchor="end">47.2°N</text>
<text transform="translate(40.20,647.28) scale(1.05,1)" class="ax" text-anchor="end">47.1°N</text>
<text transform="translate(419.40,467.00) scale(1.035,1)" class="lt">Vaccine Sites</text>
<text transform="translate(419.40,481.70) scale(1.03,1)" class="lt">per 100,000 Children</text>
<rect x="419.1" y="491.50" width="22.1" height="109.90" fill="url(#g2)"/>
<g stroke="#fff" stroke-width="0.8" opacity="0.9">
<line x1="419.1" y1="583.08" x2="423.5" y2="583.08"/><line x1="436.8" y1="583.08" x2="441.2" y2="583.08"/>
<line x1="419.1" y1="564.77" x2="423.5" y2="564.77"/><line x1="436.8" y1="564.77" x2="441.2" y2="564.77"/>
<line x1="419.1" y1="546.45" x2="423.5" y2="546.45"/><line x1="436.8" y1="546.45" x2="441.2" y2="546.45"/>
<line x1="419.1" y1="528.13" x2="423.5" y2="528.13"/><line x1="436.8" y1="528.13" x2="441.2" y2="528.13"/>
<line x1="419.1" y1="509.82" x2="423.5" y2="509.82"/><line x1="436.8" y1="509.82" x2="441.2" y2="509.82"/>
</g>
<text transform="translate(448.50,605.60) scale(1.0,1)" class="ll">0</text>
<text transform="translate(448.50,587.28) scale(1.0,1)" class="ll">10</text>
<text transform="translate(448.50,568.97) scale(1.0,1)" class="ll">20</text>
<text transform="translate(448.50,550.65) scale(1.0,1)" class="ll">30</text>
<text transform="translate(448.50,532.33) scale(1.0,1)" class="ll">40</text>
<text transform="translate(448.50,514.02) scale(1.0,1)" class="ll">50</text>
<text transform="translate(448.50,495.70) scale(1.0,1)" class="ll">60</text>
</svg>
</body></html>
